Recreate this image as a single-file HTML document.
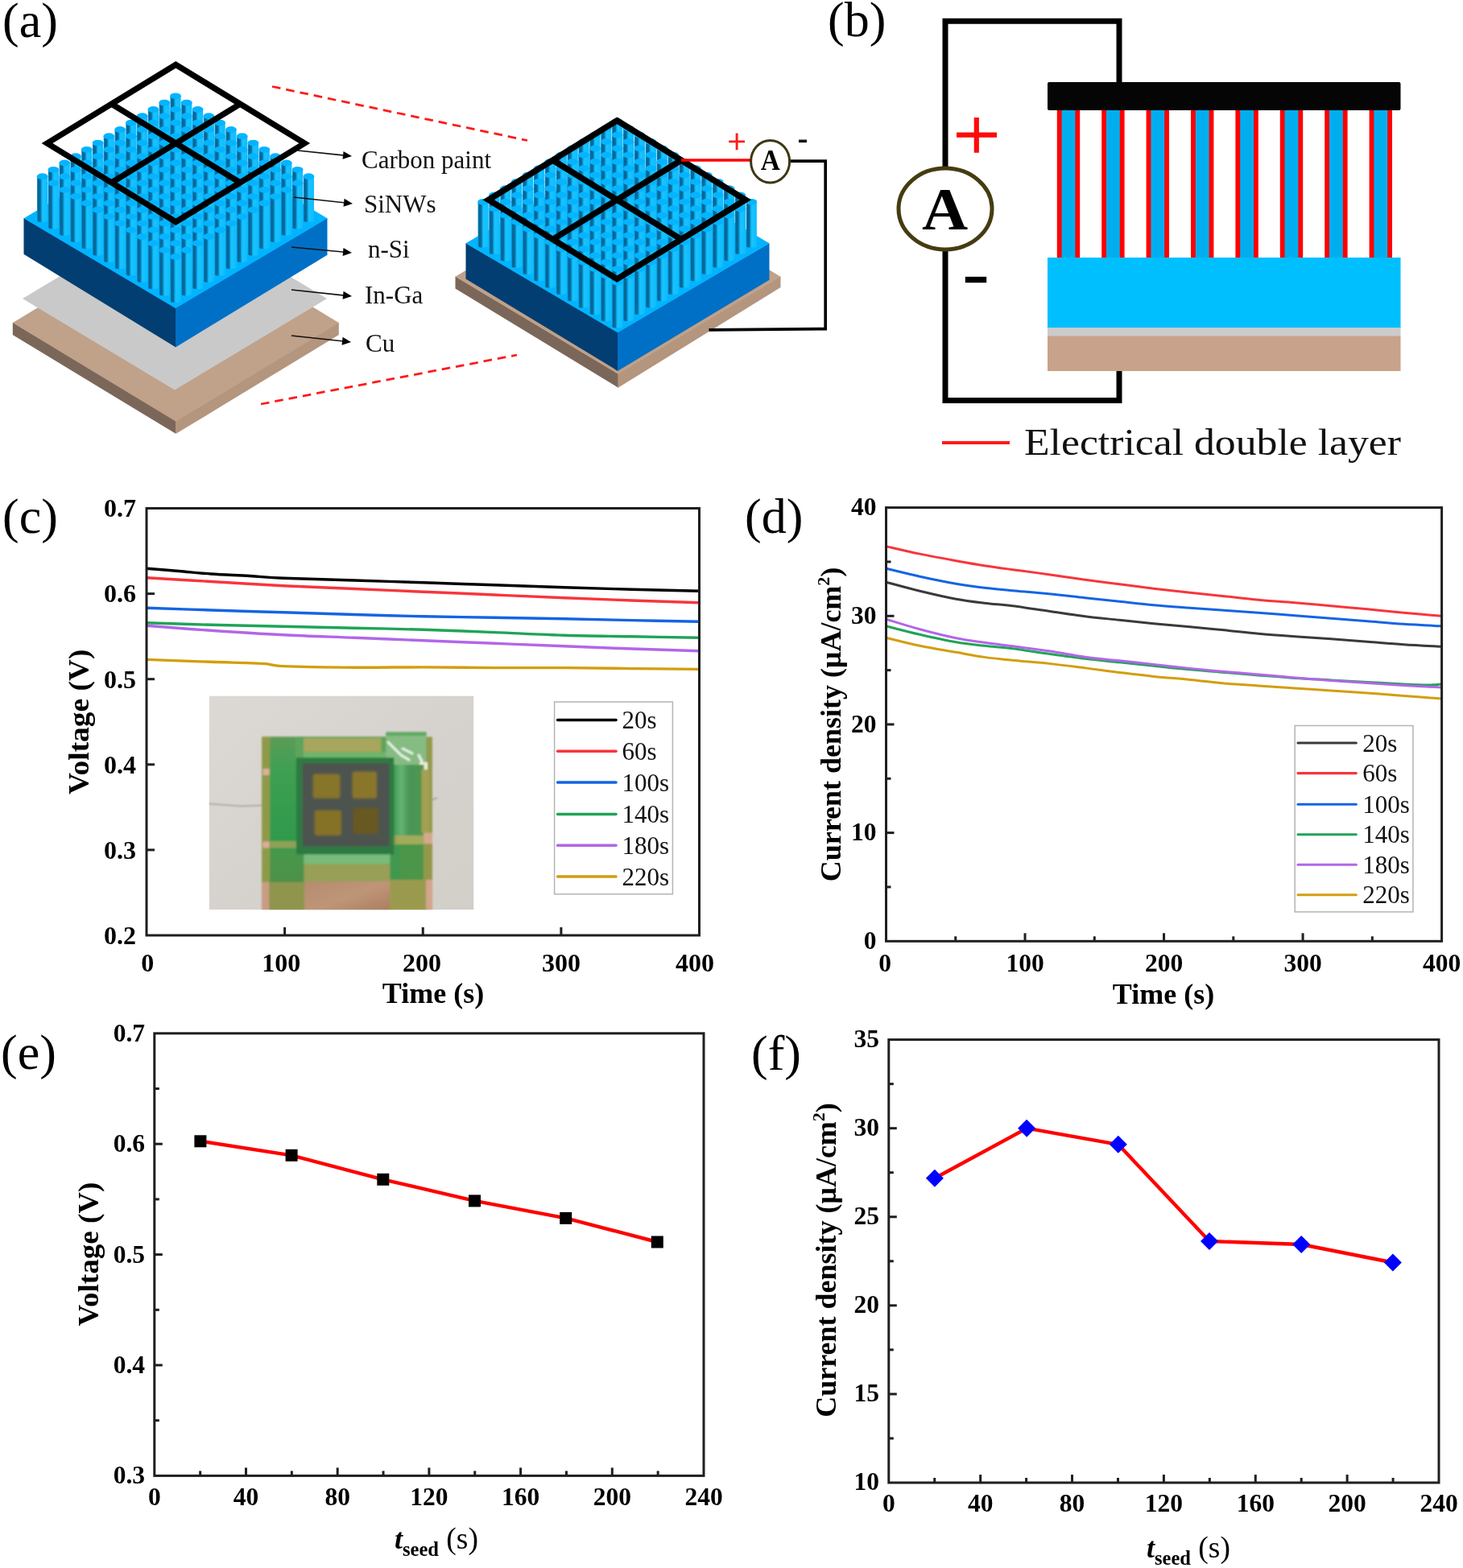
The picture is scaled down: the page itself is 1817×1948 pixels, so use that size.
<!DOCTYPE html>
<html lang="en"><head><meta charset="utf-8"><title>SiNW figure</title>
<style>
html,body{margin:0;padding:0;background:#fff;}
body{width:1817px;height:1948px;overflow:hidden;}
svg{display:block;font-family:"Liberation Serif", "DejaVu Serif", serif;}
</style></head><body>
<svg width="1817" height="1948" viewBox="0 0 1817 1948">
<defs>
<linearGradient id="pg" x1="0" x2="1" y1="0" y2="0">
<stop offset="0" stop-color="#0e9ee2"/><stop offset="0.06" stop-color="#087cb4"/><stop offset="0.11" stop-color="#046494"/><stop offset="0.32" stop-color="#056ea0"/><stop offset="0.43" stop-color="#10a8ea"/><stop offset="0.55" stop-color="#18c4ff"/><stop offset="1" stop-color="#0ebcff"/>
</linearGradient>
<clipPath id="pc"><rect x="259.6" y="864.4" width="328.8" height="265.8"/></clipPath>
<filter id="bl" x="-5%" y="-5%" width="110%" height="110%"><feGaussianBlur stdDeviation="0.9"/></filter>
<filter id="bl2" x="-20%" y="-20%" width="140%" height="140%"><feGaussianBlur stdDeviation="1.8"/></filter>
<linearGradient id="pbg" x1="0" x2="1" y1="0" y2="1"><stop offset="0" stop-color="#dcd9d4"/><stop offset="0.5" stop-color="#d6d3ce"/><stop offset="1" stop-color="#d2cec8"/></linearGradient>
<linearGradient id="ptl" x1="0" x2="0" y1="0" y2="1"><stop offset="0" stop-color="#5c9c58"/><stop offset="0.22" stop-color="#3fa052"/><stop offset="0.7" stop-color="#2f9a4c"/><stop offset="0.8" stop-color="#46984c"/><stop offset="1" stop-color="#4f9048"/></linearGradient>
<linearGradient id="ptr" x1="0" x2="1" y1="0" y2="0"><stop offset="0" stop-color="#3f9a52"/><stop offset="0.25" stop-color="#66b474"/><stop offset="0.5" stop-color="#4a9656"/><stop offset="1" stop-color="#50964f"/></linearGradient>
<linearGradient id="pcu" x1="0" x2="1" y1="0" y2="1"><stop offset="0" stop-color="#b48c6e"/><stop offset="0.5" stop-color="#bf9578"/><stop offset="1" stop-color="#a87c5e"/></linearGradient>
</defs>
<rect width="1817" height="1948" fill="#fff"/>
<text x="3.00" y="46.00" font-size="62" font-weight="normal" text-anchor="start" fill="#000" >(a)</text>
<text x="1028.00" y="45.00" font-size="62" font-weight="normal" text-anchor="start" fill="#000" >(b)</text>
<text x="3.00" y="662.00" font-size="62" font-weight="normal" text-anchor="start" fill="#000" >(c)</text>
<text x="925.00" y="662.00" font-size="62" font-weight="normal" text-anchor="start" fill="#000" >(d)</text>
<text x="1.00" y="1328.00" font-size="62" font-weight="normal" text-anchor="start" fill="#000" >(e)</text>
<text x="933.00" y="1329.00" font-size="62" font-weight="normal" text-anchor="start" fill="#000" >(f)</text>
<polygon points="15.80,400.60 218.70,523.10 218.70,539.10 15.80,416.00" fill="#7b6759" />
<polygon points="420.80,400.60 218.30,523.10 218.30,539.10 420.80,416.00" fill="#b4957e" />
<polygon points="218.30,278.50 420.80,401.00 218.30,523.50 15.80,401.00" fill="#c0a189" />
<polygon points="217.00,257.50 406.00,371.00 217.00,484.50 28.00,371.00" fill="#c9c9c9" />
<polygon points="29.50,270.80 218.40,382.60 218.40,431.50 29.50,315.70" fill="#023e72" />
<polygon points="406.50,270.80 218.00,382.60 218.00,431.50 406.50,316.70" fill="#0070c6" />
<polygon points="218.00,159.40 406.50,271.20 218.00,383.00 29.50,271.20" fill="#00b4ff" />
<path d="M211.40,119.30 v55.34 a6.60,1.56 0 0 0 13.20,0 v-55.34 z" fill="url(#pg)"/>
<ellipse cx="218.00" cy="119.30" rx="6.90" ry="3.90" fill="#04b4ff"/>
<path d="M197.62,127.62 v55.34 a6.60,1.56 0 0 0 13.20,0 v-55.34 z" fill="url(#pg)"/>
<ellipse cx="204.22" cy="127.62" rx="6.90" ry="3.90" fill="#04b4ff"/>
<path d="M225.18,127.62 v55.34 a6.60,1.56 0 0 0 13.20,0 v-55.34 z" fill="url(#pg)"/>
<ellipse cx="231.78" cy="127.62" rx="6.90" ry="3.90" fill="#04b4ff"/>
<path d="M183.84,135.94 v55.34 a6.60,1.56 0 0 0 13.20,0 v-55.34 z" fill="url(#pg)"/>
<ellipse cx="190.44" cy="135.94" rx="6.90" ry="3.90" fill="#04b4ff"/>
<path d="M211.40,135.94 v55.34 a6.60,1.56 0 0 0 13.20,0 v-55.34 z" fill="url(#pg)"/>
<ellipse cx="218.00" cy="135.94" rx="6.90" ry="3.90" fill="#04b4ff"/>
<path d="M238.96,135.94 v55.34 a6.60,1.56 0 0 0 13.20,0 v-55.34 z" fill="url(#pg)"/>
<ellipse cx="245.56" cy="135.94" rx="6.90" ry="3.90" fill="#04b4ff"/>
<path d="M170.06,144.26 v55.34 a6.60,1.56 0 0 0 13.20,0 v-55.34 z" fill="url(#pg)"/>
<ellipse cx="176.66" cy="144.26" rx="6.90" ry="3.90" fill="#04b4ff"/>
<path d="M197.62,144.26 v55.34 a6.60,1.56 0 0 0 13.20,0 v-55.34 z" fill="url(#pg)"/>
<ellipse cx="204.22" cy="144.26" rx="6.90" ry="3.90" fill="#04b4ff"/>
<path d="M225.18,144.26 v55.34 a6.60,1.56 0 0 0 13.20,0 v-55.34 z" fill="url(#pg)"/>
<ellipse cx="231.78" cy="144.26" rx="6.90" ry="3.90" fill="#04b4ff"/>
<path d="M252.74,144.26 v55.34 a6.60,1.56 0 0 0 13.20,0 v-55.34 z" fill="url(#pg)"/>
<ellipse cx="259.34" cy="144.26" rx="6.90" ry="3.90" fill="#04b4ff"/>
<path d="M156.28,152.58 v55.34 a6.60,1.56 0 0 0 13.20,0 v-55.34 z" fill="url(#pg)"/>
<ellipse cx="162.88" cy="152.58" rx="6.90" ry="3.90" fill="#04b4ff"/>
<path d="M183.84,152.58 v55.34 a6.60,1.56 0 0 0 13.20,0 v-55.34 z" fill="url(#pg)"/>
<ellipse cx="190.44" cy="152.58" rx="6.90" ry="3.90" fill="#04b4ff"/>
<path d="M211.40,152.58 v55.34 a6.60,1.56 0 0 0 13.20,0 v-55.34 z" fill="url(#pg)"/>
<ellipse cx="218.00" cy="152.58" rx="6.90" ry="3.90" fill="#04b4ff"/>
<path d="M238.96,152.58 v55.34 a6.60,1.56 0 0 0 13.20,0 v-55.34 z" fill="url(#pg)"/>
<ellipse cx="245.56" cy="152.58" rx="6.90" ry="3.90" fill="#04b4ff"/>
<path d="M266.52,152.58 v55.34 a6.60,1.56 0 0 0 13.20,0 v-55.34 z" fill="url(#pg)"/>
<ellipse cx="273.12" cy="152.58" rx="6.90" ry="3.90" fill="#04b4ff"/>
<path d="M142.50,160.90 v55.34 a6.60,1.56 0 0 0 13.20,0 v-55.34 z" fill="url(#pg)"/>
<ellipse cx="149.10" cy="160.90" rx="6.90" ry="3.90" fill="#04b4ff"/>
<path d="M170.06,160.90 v55.34 a6.60,1.56 0 0 0 13.20,0 v-55.34 z" fill="url(#pg)"/>
<ellipse cx="176.66" cy="160.90" rx="6.90" ry="3.90" fill="#04b4ff"/>
<path d="M197.62,160.90 v55.34 a6.60,1.56 0 0 0 13.20,0 v-55.34 z" fill="url(#pg)"/>
<ellipse cx="204.22" cy="160.90" rx="6.90" ry="3.90" fill="#04b4ff"/>
<path d="M225.18,160.90 v55.34 a6.60,1.56 0 0 0 13.20,0 v-55.34 z" fill="url(#pg)"/>
<ellipse cx="231.78" cy="160.90" rx="6.90" ry="3.90" fill="#04b4ff"/>
<path d="M252.74,160.90 v55.34 a6.60,1.56 0 0 0 13.20,0 v-55.34 z" fill="url(#pg)"/>
<ellipse cx="259.34" cy="160.90" rx="6.90" ry="3.90" fill="#04b4ff"/>
<path d="M280.30,160.90 v55.34 a6.60,1.56 0 0 0 13.20,0 v-55.34 z" fill="url(#pg)"/>
<ellipse cx="286.90" cy="160.90" rx="6.90" ry="3.90" fill="#04b4ff"/>
<path d="M128.72,169.22 v55.34 a6.60,1.56 0 0 0 13.20,0 v-55.34 z" fill="url(#pg)"/>
<ellipse cx="135.32" cy="169.22" rx="6.90" ry="3.90" fill="#04b4ff"/>
<path d="M156.28,169.22 v55.34 a6.60,1.56 0 0 0 13.20,0 v-55.34 z" fill="url(#pg)"/>
<ellipse cx="162.88" cy="169.22" rx="6.90" ry="3.90" fill="#04b4ff"/>
<path d="M183.84,169.22 v55.34 a6.60,1.56 0 0 0 13.20,0 v-55.34 z" fill="url(#pg)"/>
<ellipse cx="190.44" cy="169.22" rx="6.90" ry="3.90" fill="#04b4ff"/>
<path d="M211.40,169.22 v55.34 a6.60,1.56 0 0 0 13.20,0 v-55.34 z" fill="url(#pg)"/>
<ellipse cx="218.00" cy="169.22" rx="6.90" ry="3.90" fill="#04b4ff"/>
<path d="M238.96,169.22 v55.34 a6.60,1.56 0 0 0 13.20,0 v-55.34 z" fill="url(#pg)"/>
<ellipse cx="245.56" cy="169.22" rx="6.90" ry="3.90" fill="#04b4ff"/>
<path d="M266.52,169.22 v55.34 a6.60,1.56 0 0 0 13.20,0 v-55.34 z" fill="url(#pg)"/>
<ellipse cx="273.12" cy="169.22" rx="6.90" ry="3.90" fill="#04b4ff"/>
<path d="M294.08,169.22 v55.34 a6.60,1.56 0 0 0 13.20,0 v-55.34 z" fill="url(#pg)"/>
<ellipse cx="300.68" cy="169.22" rx="6.90" ry="3.90" fill="#04b4ff"/>
<path d="M114.94,177.54 v55.34 a6.60,1.56 0 0 0 13.20,0 v-55.34 z" fill="url(#pg)"/>
<ellipse cx="121.54" cy="177.54" rx="6.90" ry="3.90" fill="#04b4ff"/>
<path d="M142.50,177.54 v55.34 a6.60,1.56 0 0 0 13.20,0 v-55.34 z" fill="url(#pg)"/>
<ellipse cx="149.10" cy="177.54" rx="6.90" ry="3.90" fill="#04b4ff"/>
<path d="M170.06,177.54 v55.34 a6.60,1.56 0 0 0 13.20,0 v-55.34 z" fill="url(#pg)"/>
<ellipse cx="176.66" cy="177.54" rx="6.90" ry="3.90" fill="#04b4ff"/>
<path d="M197.62,177.54 v55.34 a6.60,1.56 0 0 0 13.20,0 v-55.34 z" fill="url(#pg)"/>
<ellipse cx="204.22" cy="177.54" rx="6.90" ry="3.90" fill="#04b4ff"/>
<path d="M225.18,177.54 v55.34 a6.60,1.56 0 0 0 13.20,0 v-55.34 z" fill="url(#pg)"/>
<ellipse cx="231.78" cy="177.54" rx="6.90" ry="3.90" fill="#04b4ff"/>
<path d="M252.74,177.54 v55.34 a6.60,1.56 0 0 0 13.20,0 v-55.34 z" fill="url(#pg)"/>
<ellipse cx="259.34" cy="177.54" rx="6.90" ry="3.90" fill="#04b4ff"/>
<path d="M280.30,177.54 v55.34 a6.60,1.56 0 0 0 13.20,0 v-55.34 z" fill="url(#pg)"/>
<ellipse cx="286.90" cy="177.54" rx="6.90" ry="3.90" fill="#04b4ff"/>
<path d="M307.86,177.54 v55.34 a6.60,1.56 0 0 0 13.20,0 v-55.34 z" fill="url(#pg)"/>
<ellipse cx="314.46" cy="177.54" rx="6.90" ry="3.90" fill="#04b4ff"/>
<path d="M101.16,185.86 v55.34 a6.60,1.56 0 0 0 13.20,0 v-55.34 z" fill="url(#pg)"/>
<ellipse cx="107.76" cy="185.86" rx="6.90" ry="3.90" fill="#04b4ff"/>
<path d="M128.72,185.86 v55.34 a6.60,1.56 0 0 0 13.20,0 v-55.34 z" fill="url(#pg)"/>
<ellipse cx="135.32" cy="185.86" rx="6.90" ry="3.90" fill="#04b4ff"/>
<path d="M156.28,185.86 v55.34 a6.60,1.56 0 0 0 13.20,0 v-55.34 z" fill="url(#pg)"/>
<ellipse cx="162.88" cy="185.86" rx="6.90" ry="3.90" fill="#04b4ff"/>
<path d="M183.84,185.86 v55.34 a6.60,1.56 0 0 0 13.20,0 v-55.34 z" fill="url(#pg)"/>
<ellipse cx="190.44" cy="185.86" rx="6.90" ry="3.90" fill="#04b4ff"/>
<path d="M211.40,185.86 v55.34 a6.60,1.56 0 0 0 13.20,0 v-55.34 z" fill="url(#pg)"/>
<ellipse cx="218.00" cy="185.86" rx="6.90" ry="3.90" fill="#04b4ff"/>
<path d="M238.96,185.86 v55.34 a6.60,1.56 0 0 0 13.20,0 v-55.34 z" fill="url(#pg)"/>
<ellipse cx="245.56" cy="185.86" rx="6.90" ry="3.90" fill="#04b4ff"/>
<path d="M266.52,185.86 v55.34 a6.60,1.56 0 0 0 13.20,0 v-55.34 z" fill="url(#pg)"/>
<ellipse cx="273.12" cy="185.86" rx="6.90" ry="3.90" fill="#04b4ff"/>
<path d="M294.08,185.86 v55.34 a6.60,1.56 0 0 0 13.20,0 v-55.34 z" fill="url(#pg)"/>
<ellipse cx="300.68" cy="185.86" rx="6.90" ry="3.90" fill="#04b4ff"/>
<path d="M321.64,185.86 v55.34 a6.60,1.56 0 0 0 13.20,0 v-55.34 z" fill="url(#pg)"/>
<ellipse cx="328.24" cy="185.86" rx="6.90" ry="3.90" fill="#04b4ff"/>
<path d="M87.38,194.18 v55.34 a6.60,1.56 0 0 0 13.20,0 v-55.34 z" fill="url(#pg)"/>
<ellipse cx="93.98" cy="194.18" rx="6.90" ry="3.90" fill="#04b4ff"/>
<path d="M114.94,194.18 v55.34 a6.60,1.56 0 0 0 13.20,0 v-55.34 z" fill="url(#pg)"/>
<ellipse cx="121.54" cy="194.18" rx="6.90" ry="3.90" fill="#04b4ff"/>
<path d="M142.50,194.18 v55.34 a6.60,1.56 0 0 0 13.20,0 v-55.34 z" fill="url(#pg)"/>
<ellipse cx="149.10" cy="194.18" rx="6.90" ry="3.90" fill="#04b4ff"/>
<path d="M170.06,194.18 v55.34 a6.60,1.56 0 0 0 13.20,0 v-55.34 z" fill="url(#pg)"/>
<ellipse cx="176.66" cy="194.18" rx="6.90" ry="3.90" fill="#04b4ff"/>
<path d="M197.62,194.18 v55.34 a6.60,1.56 0 0 0 13.20,0 v-55.34 z" fill="url(#pg)"/>
<ellipse cx="204.22" cy="194.18" rx="6.90" ry="3.90" fill="#04b4ff"/>
<path d="M225.18,194.18 v55.34 a6.60,1.56 0 0 0 13.20,0 v-55.34 z" fill="url(#pg)"/>
<ellipse cx="231.78" cy="194.18" rx="6.90" ry="3.90" fill="#04b4ff"/>
<path d="M252.74,194.18 v55.34 a6.60,1.56 0 0 0 13.20,0 v-55.34 z" fill="url(#pg)"/>
<ellipse cx="259.34" cy="194.18" rx="6.90" ry="3.90" fill="#04b4ff"/>
<path d="M280.30,194.18 v55.34 a6.60,1.56 0 0 0 13.20,0 v-55.34 z" fill="url(#pg)"/>
<ellipse cx="286.90" cy="194.18" rx="6.90" ry="3.90" fill="#04b4ff"/>
<path d="M307.86,194.18 v55.34 a6.60,1.56 0 0 0 13.20,0 v-55.34 z" fill="url(#pg)"/>
<ellipse cx="314.46" cy="194.18" rx="6.90" ry="3.90" fill="#04b4ff"/>
<path d="M335.42,194.18 v55.34 a6.60,1.56 0 0 0 13.20,0 v-55.34 z" fill="url(#pg)"/>
<ellipse cx="342.02" cy="194.18" rx="6.90" ry="3.90" fill="#04b4ff"/>
<path d="M73.60,202.50 v55.34 a6.60,1.56 0 0 0 13.20,0 v-55.34 z" fill="url(#pg)"/>
<ellipse cx="80.20" cy="202.50" rx="6.90" ry="3.90" fill="#04b4ff"/>
<path d="M101.16,202.50 v55.34 a6.60,1.56 0 0 0 13.20,0 v-55.34 z" fill="url(#pg)"/>
<ellipse cx="107.76" cy="202.50" rx="6.90" ry="3.90" fill="#04b4ff"/>
<path d="M128.72,202.50 v55.34 a6.60,1.56 0 0 0 13.20,0 v-55.34 z" fill="url(#pg)"/>
<ellipse cx="135.32" cy="202.50" rx="6.90" ry="3.90" fill="#04b4ff"/>
<path d="M156.28,202.50 v55.34 a6.60,1.56 0 0 0 13.20,0 v-55.34 z" fill="url(#pg)"/>
<ellipse cx="162.88" cy="202.50" rx="6.90" ry="3.90" fill="#04b4ff"/>
<path d="M183.84,202.50 v55.34 a6.60,1.56 0 0 0 13.20,0 v-55.34 z" fill="url(#pg)"/>
<ellipse cx="190.44" cy="202.50" rx="6.90" ry="3.90" fill="#04b4ff"/>
<path d="M211.40,202.50 v55.34 a6.60,1.56 0 0 0 13.20,0 v-55.34 z" fill="url(#pg)"/>
<ellipse cx="218.00" cy="202.50" rx="6.90" ry="3.90" fill="#04b4ff"/>
<path d="M238.96,202.50 v55.34 a6.60,1.56 0 0 0 13.20,0 v-55.34 z" fill="url(#pg)"/>
<ellipse cx="245.56" cy="202.50" rx="6.90" ry="3.90" fill="#04b4ff"/>
<path d="M266.52,202.50 v55.34 a6.60,1.56 0 0 0 13.20,0 v-55.34 z" fill="url(#pg)"/>
<ellipse cx="273.12" cy="202.50" rx="6.90" ry="3.90" fill="#04b4ff"/>
<path d="M294.08,202.50 v55.34 a6.60,1.56 0 0 0 13.20,0 v-55.34 z" fill="url(#pg)"/>
<ellipse cx="300.68" cy="202.50" rx="6.90" ry="3.90" fill="#04b4ff"/>
<path d="M321.64,202.50 v55.34 a6.60,1.56 0 0 0 13.20,0 v-55.34 z" fill="url(#pg)"/>
<ellipse cx="328.24" cy="202.50" rx="6.90" ry="3.90" fill="#04b4ff"/>
<path d="M349.20,202.50 v55.34 a6.60,1.56 0 0 0 13.20,0 v-55.34 z" fill="url(#pg)"/>
<ellipse cx="355.80" cy="202.50" rx="6.90" ry="3.90" fill="#04b4ff"/>
<path d="M59.82,210.82 v55.34 a6.60,1.56 0 0 0 13.20,0 v-55.34 z" fill="url(#pg)"/>
<ellipse cx="66.42" cy="210.82" rx="6.90" ry="3.90" fill="#04b4ff"/>
<path d="M87.38,210.82 v55.34 a6.60,1.56 0 0 0 13.20,0 v-55.34 z" fill="url(#pg)"/>
<ellipse cx="93.98" cy="210.82" rx="6.90" ry="3.90" fill="#04b4ff"/>
<path d="M114.94,210.82 v55.34 a6.60,1.56 0 0 0 13.20,0 v-55.34 z" fill="url(#pg)"/>
<ellipse cx="121.54" cy="210.82" rx="6.90" ry="3.90" fill="#04b4ff"/>
<path d="M142.50,210.82 v55.34 a6.60,1.56 0 0 0 13.20,0 v-55.34 z" fill="url(#pg)"/>
<ellipse cx="149.10" cy="210.82" rx="6.90" ry="3.90" fill="#04b4ff"/>
<path d="M170.06,210.82 v55.34 a6.60,1.56 0 0 0 13.20,0 v-55.34 z" fill="url(#pg)"/>
<ellipse cx="176.66" cy="210.82" rx="6.90" ry="3.90" fill="#04b4ff"/>
<path d="M197.62,210.82 v55.34 a6.60,1.56 0 0 0 13.20,0 v-55.34 z" fill="url(#pg)"/>
<ellipse cx="204.22" cy="210.82" rx="6.90" ry="3.90" fill="#04b4ff"/>
<path d="M225.18,210.82 v55.34 a6.60,1.56 0 0 0 13.20,0 v-55.34 z" fill="url(#pg)"/>
<ellipse cx="231.78" cy="210.82" rx="6.90" ry="3.90" fill="#04b4ff"/>
<path d="M252.74,210.82 v55.34 a6.60,1.56 0 0 0 13.20,0 v-55.34 z" fill="url(#pg)"/>
<ellipse cx="259.34" cy="210.82" rx="6.90" ry="3.90" fill="#04b4ff"/>
<path d="M280.30,210.82 v55.34 a6.60,1.56 0 0 0 13.20,0 v-55.34 z" fill="url(#pg)"/>
<ellipse cx="286.90" cy="210.82" rx="6.90" ry="3.90" fill="#04b4ff"/>
<path d="M307.86,210.82 v55.34 a6.60,1.56 0 0 0 13.20,0 v-55.34 z" fill="url(#pg)"/>
<ellipse cx="314.46" cy="210.82" rx="6.90" ry="3.90" fill="#04b4ff"/>
<path d="M335.42,210.82 v55.34 a6.60,1.56 0 0 0 13.20,0 v-55.34 z" fill="url(#pg)"/>
<ellipse cx="342.02" cy="210.82" rx="6.90" ry="3.90" fill="#04b4ff"/>
<path d="M362.98,210.82 v55.34 a6.60,1.56 0 0 0 13.20,0 v-55.34 z" fill="url(#pg)"/>
<ellipse cx="369.58" cy="210.82" rx="6.90" ry="3.90" fill="#04b4ff"/>
<path d="M46.04,219.14 v55.34 a6.60,1.56 0 0 0 13.20,0 v-55.34 z" fill="url(#pg)"/>
<ellipse cx="52.64" cy="219.14" rx="6.90" ry="3.90" fill="#04b4ff"/>
<path d="M73.60,219.14 v55.34 a6.60,1.56 0 0 0 13.20,0 v-55.34 z" fill="url(#pg)"/>
<ellipse cx="80.20" cy="219.14" rx="6.90" ry="3.90" fill="#04b4ff"/>
<path d="M101.16,219.14 v55.34 a6.60,1.56 0 0 0 13.20,0 v-55.34 z" fill="url(#pg)"/>
<ellipse cx="107.76" cy="219.14" rx="6.90" ry="3.90" fill="#04b4ff"/>
<path d="M128.72,219.14 v55.34 a6.60,1.56 0 0 0 13.20,0 v-55.34 z" fill="url(#pg)"/>
<ellipse cx="135.32" cy="219.14" rx="6.90" ry="3.90" fill="#04b4ff"/>
<path d="M156.28,219.14 v55.34 a6.60,1.56 0 0 0 13.20,0 v-55.34 z" fill="url(#pg)"/>
<ellipse cx="162.88" cy="219.14" rx="6.90" ry="3.90" fill="#04b4ff"/>
<path d="M183.84,219.14 v55.34 a6.60,1.56 0 0 0 13.20,0 v-55.34 z" fill="url(#pg)"/>
<ellipse cx="190.44" cy="219.14" rx="6.90" ry="3.90" fill="#04b4ff"/>
<path d="M211.40,219.14 v55.34 a6.60,1.56 0 0 0 13.20,0 v-55.34 z" fill="url(#pg)"/>
<ellipse cx="218.00" cy="219.14" rx="6.90" ry="3.90" fill="#04b4ff"/>
<path d="M238.96,219.14 v55.34 a6.60,1.56 0 0 0 13.20,0 v-55.34 z" fill="url(#pg)"/>
<ellipse cx="245.56" cy="219.14" rx="6.90" ry="3.90" fill="#04b4ff"/>
<path d="M266.52,219.14 v55.34 a6.60,1.56 0 0 0 13.20,0 v-55.34 z" fill="url(#pg)"/>
<ellipse cx="273.12" cy="219.14" rx="6.90" ry="3.90" fill="#04b4ff"/>
<path d="M294.08,219.14 v55.34 a6.60,1.56 0 0 0 13.20,0 v-55.34 z" fill="url(#pg)"/>
<ellipse cx="300.68" cy="219.14" rx="6.90" ry="3.90" fill="#04b4ff"/>
<path d="M321.64,219.14 v55.34 a6.60,1.56 0 0 0 13.20,0 v-55.34 z" fill="url(#pg)"/>
<ellipse cx="328.24" cy="219.14" rx="6.90" ry="3.90" fill="#04b4ff"/>
<path d="M349.20,219.14 v55.34 a6.60,1.56 0 0 0 13.20,0 v-55.34 z" fill="url(#pg)"/>
<ellipse cx="355.80" cy="219.14" rx="6.90" ry="3.90" fill="#04b4ff"/>
<path d="M376.76,219.14 v55.34 a6.60,1.56 0 0 0 13.20,0 v-55.34 z" fill="url(#pg)"/>
<ellipse cx="383.36" cy="219.14" rx="6.90" ry="3.90" fill="#04b4ff"/>
<path d="M59.82,227.46 v55.34 a6.60,1.56 0 0 0 13.20,0 v-55.34 z" fill="url(#pg)"/>
<ellipse cx="66.42" cy="227.46" rx="6.90" ry="3.90" fill="#04b4ff"/>
<path d="M87.38,227.46 v55.34 a6.60,1.56 0 0 0 13.20,0 v-55.34 z" fill="url(#pg)"/>
<ellipse cx="93.98" cy="227.46" rx="6.90" ry="3.90" fill="#04b4ff"/>
<path d="M114.94,227.46 v55.34 a6.60,1.56 0 0 0 13.20,0 v-55.34 z" fill="url(#pg)"/>
<ellipse cx="121.54" cy="227.46" rx="6.90" ry="3.90" fill="#04b4ff"/>
<path d="M142.50,227.46 v55.34 a6.60,1.56 0 0 0 13.20,0 v-55.34 z" fill="url(#pg)"/>
<ellipse cx="149.10" cy="227.46" rx="6.90" ry="3.90" fill="#04b4ff"/>
<path d="M170.06,227.46 v55.34 a6.60,1.56 0 0 0 13.20,0 v-55.34 z" fill="url(#pg)"/>
<ellipse cx="176.66" cy="227.46" rx="6.90" ry="3.90" fill="#04b4ff"/>
<path d="M197.62,227.46 v55.34 a6.60,1.56 0 0 0 13.20,0 v-55.34 z" fill="url(#pg)"/>
<ellipse cx="204.22" cy="227.46" rx="6.90" ry="3.90" fill="#04b4ff"/>
<path d="M225.18,227.46 v55.34 a6.60,1.56 0 0 0 13.20,0 v-55.34 z" fill="url(#pg)"/>
<ellipse cx="231.78" cy="227.46" rx="6.90" ry="3.90" fill="#04b4ff"/>
<path d="M252.74,227.46 v55.34 a6.60,1.56 0 0 0 13.20,0 v-55.34 z" fill="url(#pg)"/>
<ellipse cx="259.34" cy="227.46" rx="6.90" ry="3.90" fill="#04b4ff"/>
<path d="M280.30,227.46 v55.34 a6.60,1.56 0 0 0 13.20,0 v-55.34 z" fill="url(#pg)"/>
<ellipse cx="286.90" cy="227.46" rx="6.90" ry="3.90" fill="#04b4ff"/>
<path d="M307.86,227.46 v55.34 a6.60,1.56 0 0 0 13.20,0 v-55.34 z" fill="url(#pg)"/>
<ellipse cx="314.46" cy="227.46" rx="6.90" ry="3.90" fill="#04b4ff"/>
<path d="M335.42,227.46 v55.34 a6.60,1.56 0 0 0 13.20,0 v-55.34 z" fill="url(#pg)"/>
<ellipse cx="342.02" cy="227.46" rx="6.90" ry="3.90" fill="#04b4ff"/>
<path d="M362.98,227.46 v55.34 a6.60,1.56 0 0 0 13.20,0 v-55.34 z" fill="url(#pg)"/>
<ellipse cx="369.58" cy="227.46" rx="6.90" ry="3.90" fill="#04b4ff"/>
<path d="M73.60,235.78 v55.34 a6.60,1.56 0 0 0 13.20,0 v-55.34 z" fill="url(#pg)"/>
<ellipse cx="80.20" cy="235.78" rx="6.90" ry="3.90" fill="#04b4ff"/>
<path d="M101.16,235.78 v55.34 a6.60,1.56 0 0 0 13.20,0 v-55.34 z" fill="url(#pg)"/>
<ellipse cx="107.76" cy="235.78" rx="6.90" ry="3.90" fill="#04b4ff"/>
<path d="M128.72,235.78 v55.34 a6.60,1.56 0 0 0 13.20,0 v-55.34 z" fill="url(#pg)"/>
<ellipse cx="135.32" cy="235.78" rx="6.90" ry="3.90" fill="#04b4ff"/>
<path d="M156.28,235.78 v55.34 a6.60,1.56 0 0 0 13.20,0 v-55.34 z" fill="url(#pg)"/>
<ellipse cx="162.88" cy="235.78" rx="6.90" ry="3.90" fill="#04b4ff"/>
<path d="M183.84,235.78 v55.34 a6.60,1.56 0 0 0 13.20,0 v-55.34 z" fill="url(#pg)"/>
<ellipse cx="190.44" cy="235.78" rx="6.90" ry="3.90" fill="#04b4ff"/>
<path d="M211.40,235.78 v55.34 a6.60,1.56 0 0 0 13.20,0 v-55.34 z" fill="url(#pg)"/>
<ellipse cx="218.00" cy="235.78" rx="6.90" ry="3.90" fill="#04b4ff"/>
<path d="M238.96,235.78 v55.34 a6.60,1.56 0 0 0 13.20,0 v-55.34 z" fill="url(#pg)"/>
<ellipse cx="245.56" cy="235.78" rx="6.90" ry="3.90" fill="#04b4ff"/>
<path d="M266.52,235.78 v55.34 a6.60,1.56 0 0 0 13.20,0 v-55.34 z" fill="url(#pg)"/>
<ellipse cx="273.12" cy="235.78" rx="6.90" ry="3.90" fill="#04b4ff"/>
<path d="M294.08,235.78 v55.34 a6.60,1.56 0 0 0 13.20,0 v-55.34 z" fill="url(#pg)"/>
<ellipse cx="300.68" cy="235.78" rx="6.90" ry="3.90" fill="#04b4ff"/>
<path d="M321.64,235.78 v55.34 a6.60,1.56 0 0 0 13.20,0 v-55.34 z" fill="url(#pg)"/>
<ellipse cx="328.24" cy="235.78" rx="6.90" ry="3.90" fill="#04b4ff"/>
<path d="M349.20,235.78 v55.34 a6.60,1.56 0 0 0 13.20,0 v-55.34 z" fill="url(#pg)"/>
<ellipse cx="355.80" cy="235.78" rx="6.90" ry="3.90" fill="#04b4ff"/>
<path d="M87.38,244.10 v55.34 a6.60,1.56 0 0 0 13.20,0 v-55.34 z" fill="url(#pg)"/>
<ellipse cx="93.98" cy="244.10" rx="6.90" ry="3.90" fill="#04b4ff"/>
<path d="M114.94,244.10 v55.34 a6.60,1.56 0 0 0 13.20,0 v-55.34 z" fill="url(#pg)"/>
<ellipse cx="121.54" cy="244.10" rx="6.90" ry="3.90" fill="#04b4ff"/>
<path d="M142.50,244.10 v55.34 a6.60,1.56 0 0 0 13.20,0 v-55.34 z" fill="url(#pg)"/>
<ellipse cx="149.10" cy="244.10" rx="6.90" ry="3.90" fill="#04b4ff"/>
<path d="M170.06,244.10 v55.34 a6.60,1.56 0 0 0 13.20,0 v-55.34 z" fill="url(#pg)"/>
<ellipse cx="176.66" cy="244.10" rx="6.90" ry="3.90" fill="#04b4ff"/>
<path d="M197.62,244.10 v55.34 a6.60,1.56 0 0 0 13.20,0 v-55.34 z" fill="url(#pg)"/>
<ellipse cx="204.22" cy="244.10" rx="6.90" ry="3.90" fill="#04b4ff"/>
<path d="M225.18,244.10 v55.34 a6.60,1.56 0 0 0 13.20,0 v-55.34 z" fill="url(#pg)"/>
<ellipse cx="231.78" cy="244.10" rx="6.90" ry="3.90" fill="#04b4ff"/>
<path d="M252.74,244.10 v55.34 a6.60,1.56 0 0 0 13.20,0 v-55.34 z" fill="url(#pg)"/>
<ellipse cx="259.34" cy="244.10" rx="6.90" ry="3.90" fill="#04b4ff"/>
<path d="M280.30,244.10 v55.34 a6.60,1.56 0 0 0 13.20,0 v-55.34 z" fill="url(#pg)"/>
<ellipse cx="286.90" cy="244.10" rx="6.90" ry="3.90" fill="#04b4ff"/>
<path d="M307.86,244.10 v55.34 a6.60,1.56 0 0 0 13.20,0 v-55.34 z" fill="url(#pg)"/>
<ellipse cx="314.46" cy="244.10" rx="6.90" ry="3.90" fill="#04b4ff"/>
<path d="M335.42,244.10 v55.34 a6.60,1.56 0 0 0 13.20,0 v-55.34 z" fill="url(#pg)"/>
<ellipse cx="342.02" cy="244.10" rx="6.90" ry="3.90" fill="#04b4ff"/>
<path d="M101.16,252.42 v55.34 a6.60,1.56 0 0 0 13.20,0 v-55.34 z" fill="url(#pg)"/>
<ellipse cx="107.76" cy="252.42" rx="6.90" ry="3.90" fill="#04b4ff"/>
<path d="M128.72,252.42 v55.34 a6.60,1.56 0 0 0 13.20,0 v-55.34 z" fill="url(#pg)"/>
<ellipse cx="135.32" cy="252.42" rx="6.90" ry="3.90" fill="#04b4ff"/>
<path d="M156.28,252.42 v55.34 a6.60,1.56 0 0 0 13.20,0 v-55.34 z" fill="url(#pg)"/>
<ellipse cx="162.88" cy="252.42" rx="6.90" ry="3.90" fill="#04b4ff"/>
<path d="M183.84,252.42 v55.34 a6.60,1.56 0 0 0 13.20,0 v-55.34 z" fill="url(#pg)"/>
<ellipse cx="190.44" cy="252.42" rx="6.90" ry="3.90" fill="#04b4ff"/>
<path d="M211.40,252.42 v55.34 a6.60,1.56 0 0 0 13.20,0 v-55.34 z" fill="url(#pg)"/>
<ellipse cx="218.00" cy="252.42" rx="6.90" ry="3.90" fill="#04b4ff"/>
<path d="M238.96,252.42 v55.34 a6.60,1.56 0 0 0 13.20,0 v-55.34 z" fill="url(#pg)"/>
<ellipse cx="245.56" cy="252.42" rx="6.90" ry="3.90" fill="#04b4ff"/>
<path d="M266.52,252.42 v55.34 a6.60,1.56 0 0 0 13.20,0 v-55.34 z" fill="url(#pg)"/>
<ellipse cx="273.12" cy="252.42" rx="6.90" ry="3.90" fill="#04b4ff"/>
<path d="M294.08,252.42 v55.34 a6.60,1.56 0 0 0 13.20,0 v-55.34 z" fill="url(#pg)"/>
<ellipse cx="300.68" cy="252.42" rx="6.90" ry="3.90" fill="#04b4ff"/>
<path d="M321.64,252.42 v55.34 a6.60,1.56 0 0 0 13.20,0 v-55.34 z" fill="url(#pg)"/>
<ellipse cx="328.24" cy="252.42" rx="6.90" ry="3.90" fill="#04b4ff"/>
<path d="M114.94,260.74 v55.34 a6.60,1.56 0 0 0 13.20,0 v-55.34 z" fill="url(#pg)"/>
<ellipse cx="121.54" cy="260.74" rx="6.90" ry="3.90" fill="#04b4ff"/>
<path d="M142.50,260.74 v55.34 a6.60,1.56 0 0 0 13.20,0 v-55.34 z" fill="url(#pg)"/>
<ellipse cx="149.10" cy="260.74" rx="6.90" ry="3.90" fill="#04b4ff"/>
<path d="M170.06,260.74 v55.34 a6.60,1.56 0 0 0 13.20,0 v-55.34 z" fill="url(#pg)"/>
<ellipse cx="176.66" cy="260.74" rx="6.90" ry="3.90" fill="#04b4ff"/>
<path d="M197.62,260.74 v55.34 a6.60,1.56 0 0 0 13.20,0 v-55.34 z" fill="url(#pg)"/>
<ellipse cx="204.22" cy="260.74" rx="6.90" ry="3.90" fill="#04b4ff"/>
<path d="M225.18,260.74 v55.34 a6.60,1.56 0 0 0 13.20,0 v-55.34 z" fill="url(#pg)"/>
<ellipse cx="231.78" cy="260.74" rx="6.90" ry="3.90" fill="#04b4ff"/>
<path d="M252.74,260.74 v55.34 a6.60,1.56 0 0 0 13.20,0 v-55.34 z" fill="url(#pg)"/>
<ellipse cx="259.34" cy="260.74" rx="6.90" ry="3.90" fill="#04b4ff"/>
<path d="M280.30,260.74 v55.34 a6.60,1.56 0 0 0 13.20,0 v-55.34 z" fill="url(#pg)"/>
<ellipse cx="286.90" cy="260.74" rx="6.90" ry="3.90" fill="#04b4ff"/>
<path d="M307.86,260.74 v55.34 a6.60,1.56 0 0 0 13.20,0 v-55.34 z" fill="url(#pg)"/>
<ellipse cx="314.46" cy="260.74" rx="6.90" ry="3.90" fill="#04b4ff"/>
<path d="M128.72,269.06 v55.34 a6.60,1.56 0 0 0 13.20,0 v-55.34 z" fill="url(#pg)"/>
<ellipse cx="135.32" cy="269.06" rx="6.90" ry="3.90" fill="#04b4ff"/>
<path d="M156.28,269.06 v55.34 a6.60,1.56 0 0 0 13.20,0 v-55.34 z" fill="url(#pg)"/>
<ellipse cx="162.88" cy="269.06" rx="6.90" ry="3.90" fill="#04b4ff"/>
<path d="M183.84,269.06 v55.34 a6.60,1.56 0 0 0 13.20,0 v-55.34 z" fill="url(#pg)"/>
<ellipse cx="190.44" cy="269.06" rx="6.90" ry="3.90" fill="#04b4ff"/>
<path d="M211.40,269.06 v55.34 a6.60,1.56 0 0 0 13.20,0 v-55.34 z" fill="url(#pg)"/>
<ellipse cx="218.00" cy="269.06" rx="6.90" ry="3.90" fill="#04b4ff"/>
<path d="M238.96,269.06 v55.34 a6.60,1.56 0 0 0 13.20,0 v-55.34 z" fill="url(#pg)"/>
<ellipse cx="245.56" cy="269.06" rx="6.90" ry="3.90" fill="#04b4ff"/>
<path d="M266.52,269.06 v55.34 a6.60,1.56 0 0 0 13.20,0 v-55.34 z" fill="url(#pg)"/>
<ellipse cx="273.12" cy="269.06" rx="6.90" ry="3.90" fill="#04b4ff"/>
<path d="M294.08,269.06 v55.34 a6.60,1.56 0 0 0 13.20,0 v-55.34 z" fill="url(#pg)"/>
<ellipse cx="300.68" cy="269.06" rx="6.90" ry="3.90" fill="#04b4ff"/>
<path d="M142.50,277.38 v55.34 a6.60,1.56 0 0 0 13.20,0 v-55.34 z" fill="url(#pg)"/>
<ellipse cx="149.10" cy="277.38" rx="6.90" ry="3.90" fill="#04b4ff"/>
<path d="M170.06,277.38 v55.34 a6.60,1.56 0 0 0 13.20,0 v-55.34 z" fill="url(#pg)"/>
<ellipse cx="176.66" cy="277.38" rx="6.90" ry="3.90" fill="#04b4ff"/>
<path d="M197.62,277.38 v55.34 a6.60,1.56 0 0 0 13.20,0 v-55.34 z" fill="url(#pg)"/>
<ellipse cx="204.22" cy="277.38" rx="6.90" ry="3.90" fill="#04b4ff"/>
<path d="M225.18,277.38 v55.34 a6.60,1.56 0 0 0 13.20,0 v-55.34 z" fill="url(#pg)"/>
<ellipse cx="231.78" cy="277.38" rx="6.90" ry="3.90" fill="#04b4ff"/>
<path d="M252.74,277.38 v55.34 a6.60,1.56 0 0 0 13.20,0 v-55.34 z" fill="url(#pg)"/>
<ellipse cx="259.34" cy="277.38" rx="6.90" ry="3.90" fill="#04b4ff"/>
<path d="M280.30,277.38 v55.34 a6.60,1.56 0 0 0 13.20,0 v-55.34 z" fill="url(#pg)"/>
<ellipse cx="286.90" cy="277.38" rx="6.90" ry="3.90" fill="#04b4ff"/>
<path d="M156.28,285.70 v55.34 a6.60,1.56 0 0 0 13.20,0 v-55.34 z" fill="url(#pg)"/>
<ellipse cx="162.88" cy="285.70" rx="6.90" ry="3.90" fill="#04b4ff"/>
<path d="M183.84,285.70 v55.34 a6.60,1.56 0 0 0 13.20,0 v-55.34 z" fill="url(#pg)"/>
<ellipse cx="190.44" cy="285.70" rx="6.90" ry="3.90" fill="#04b4ff"/>
<path d="M211.40,285.70 v55.34 a6.60,1.56 0 0 0 13.20,0 v-55.34 z" fill="url(#pg)"/>
<ellipse cx="218.00" cy="285.70" rx="6.90" ry="3.90" fill="#04b4ff"/>
<path d="M238.96,285.70 v55.34 a6.60,1.56 0 0 0 13.20,0 v-55.34 z" fill="url(#pg)"/>
<ellipse cx="245.56" cy="285.70" rx="6.90" ry="3.90" fill="#04b4ff"/>
<path d="M266.52,285.70 v55.34 a6.60,1.56 0 0 0 13.20,0 v-55.34 z" fill="url(#pg)"/>
<ellipse cx="273.12" cy="285.70" rx="6.90" ry="3.90" fill="#04b4ff"/>
<path d="M170.06,294.02 v55.34 a6.60,1.56 0 0 0 13.20,0 v-55.34 z" fill="url(#pg)"/>
<ellipse cx="176.66" cy="294.02" rx="6.90" ry="3.90" fill="#04b4ff"/>
<path d="M197.62,294.02 v55.34 a6.60,1.56 0 0 0 13.20,0 v-55.34 z" fill="url(#pg)"/>
<ellipse cx="204.22" cy="294.02" rx="6.90" ry="3.90" fill="#04b4ff"/>
<path d="M225.18,294.02 v55.34 a6.60,1.56 0 0 0 13.20,0 v-55.34 z" fill="url(#pg)"/>
<ellipse cx="231.78" cy="294.02" rx="6.90" ry="3.90" fill="#04b4ff"/>
<path d="M252.74,294.02 v55.34 a6.60,1.56 0 0 0 13.20,0 v-55.34 z" fill="url(#pg)"/>
<ellipse cx="259.34" cy="294.02" rx="6.90" ry="3.90" fill="#04b4ff"/>
<path d="M183.84,302.34 v55.34 a6.60,1.56 0 0 0 13.20,0 v-55.34 z" fill="url(#pg)"/>
<ellipse cx="190.44" cy="302.34" rx="6.90" ry="3.90" fill="#04b4ff"/>
<path d="M211.40,302.34 v55.34 a6.60,1.56 0 0 0 13.20,0 v-55.34 z" fill="url(#pg)"/>
<ellipse cx="218.00" cy="302.34" rx="6.90" ry="3.90" fill="#04b4ff"/>
<path d="M238.96,302.34 v55.34 a6.60,1.56 0 0 0 13.20,0 v-55.34 z" fill="url(#pg)"/>
<ellipse cx="245.56" cy="302.34" rx="6.90" ry="3.90" fill="#04b4ff"/>
<path d="M197.62,310.66 v55.34 a6.60,1.56 0 0 0 13.20,0 v-55.34 z" fill="url(#pg)"/>
<ellipse cx="204.22" cy="310.66" rx="6.90" ry="3.90" fill="#04b4ff"/>
<path d="M225.18,310.66 v55.34 a6.60,1.56 0 0 0 13.20,0 v-55.34 z" fill="url(#pg)"/>
<ellipse cx="231.78" cy="310.66" rx="6.90" ry="3.90" fill="#04b4ff"/>
<path d="M211.40,318.98 v55.34 a6.60,1.56 0 0 0 13.20,0 v-55.34 z" fill="url(#pg)"/>
<ellipse cx="218.00" cy="318.98" rx="6.90" ry="3.90" fill="#04b4ff"/>
<g fill="none" stroke="#000" stroke-width="7.3" stroke-linejoin="miter">
<polygon points="218.40,80.40 378.20,178.00 218.40,275.60 58.60,178.00" fill="none" />
<line x1="138.50" y1="129.20" x2="298.30" y2="226.80"/>
<line x1="298.30" y1="129.20" x2="138.50" y2="226.80"/>
</g>
<line x1="370.00" y1="187.00" x2="426.06" y2="192.86" stroke="#111" stroke-width="1.6"/>
<polygon points="437.00,194.00 425.54,197.83 426.58,187.88" fill="#000" />
<line x1="365.00" y1="245.00" x2="427.07" y2="251.80" stroke="#111" stroke-width="1.6"/>
<polygon points="438.00,253.00 426.52,256.77 427.61,246.83" fill="#000" />
<line x1="362.00" y1="307.00" x2="426.05" y2="312.98" stroke="#111" stroke-width="1.6"/>
<polygon points="437.00,314.00 425.58,317.96 426.51,308.00" fill="#000" />
<line x1="362.00" y1="360.00" x2="426.06" y2="366.83" stroke="#111" stroke-width="1.6"/>
<polygon points="437.00,368.00 425.53,371.81 426.59,361.86" fill="#000" />
<line x1="362.00" y1="417.00" x2="425.06" y2="423.82" stroke="#111" stroke-width="1.6"/>
<polygon points="436.00,425.00 424.53,428.79 425.60,418.85" fill="#000" />
<text x="449.00" y="209.30" font-size="31" font-weight="normal" text-anchor="start" fill="#111" >Carbon paint</text>
<text x="452.00" y="264.00" font-size="31" font-weight="normal" text-anchor="start" fill="#111" >SiNWs</text>
<text x="457.00" y="320.00" font-size="31" font-weight="normal" text-anchor="start" fill="#111" >n-Si</text>
<text x="453.00" y="376.50" font-size="31" font-weight="normal" text-anchor="start" fill="#111" >In-Ga</text>
<text x="454.00" y="437.00" font-size="31" font-weight="normal" text-anchor="start" fill="#111" >Cu</text>
<line x1="338" y1="107.5" x2="655" y2="174.5" stroke="#ff1a1a" stroke-width="2.8" stroke-dasharray="10.6 7"/>
<line x1="324" y1="502" x2="642" y2="441" stroke="#ff1a1a" stroke-width="2.8" stroke-dasharray="10.6 7"/>
<polygon points="565.50,343.30 767.90,464.30 767.90,481.70 565.50,358.40" fill="#7b6759" />
<polygon points="969.50,343.30 767.50,464.30 767.50,481.70 969.50,356.90" fill="#b4957e" />
<polygon points="767.50,222.70 969.50,343.70 767.50,464.70 565.50,343.70" fill="#c0a189" />
<polygon points="578.50,301.90 767.40,412.90 767.40,460.90 578.50,346.60" fill="#023e72" />
<polygon points="955.50,301.90 767.00,412.90 767.00,460.90 955.50,347.80" fill="#0070c6" />
<polygon points="767.00,191.30 955.50,302.30 767.00,413.30 578.50,302.30" fill="#00b4ff" />
<path d="M760.10,151.00 v55.34 a6.60,1.56 0 0 0 13.20,0 v-55.34 z" fill="url(#pg)"/>
<ellipse cx="766.70" cy="151.00" rx="6.90" ry="3.90" fill="#04b4ff"/>
<path d="M746.22,159.32 v55.34 a6.60,1.56 0 0 0 13.20,0 v-55.34 z" fill="url(#pg)"/>
<ellipse cx="752.82" cy="159.32" rx="6.90" ry="3.90" fill="#04b4ff"/>
<path d="M773.98,159.32 v55.34 a6.60,1.56 0 0 0 13.20,0 v-55.34 z" fill="url(#pg)"/>
<ellipse cx="780.58" cy="159.32" rx="6.90" ry="3.90" fill="#04b4ff"/>
<path d="M732.34,167.64 v55.34 a6.60,1.56 0 0 0 13.20,0 v-55.34 z" fill="url(#pg)"/>
<ellipse cx="738.94" cy="167.64" rx="6.90" ry="3.90" fill="#04b4ff"/>
<path d="M760.10,167.64 v55.34 a6.60,1.56 0 0 0 13.20,0 v-55.34 z" fill="url(#pg)"/>
<ellipse cx="766.70" cy="167.64" rx="6.90" ry="3.90" fill="#04b4ff"/>
<path d="M787.86,167.64 v55.34 a6.60,1.56 0 0 0 13.20,0 v-55.34 z" fill="url(#pg)"/>
<ellipse cx="794.46" cy="167.64" rx="6.90" ry="3.90" fill="#04b4ff"/>
<path d="M718.46,175.96 v55.34 a6.60,1.56 0 0 0 13.20,0 v-55.34 z" fill="url(#pg)"/>
<ellipse cx="725.06" cy="175.96" rx="6.90" ry="3.90" fill="#04b4ff"/>
<path d="M746.22,175.96 v55.34 a6.60,1.56 0 0 0 13.20,0 v-55.34 z" fill="url(#pg)"/>
<ellipse cx="752.82" cy="175.96" rx="6.90" ry="3.90" fill="#04b4ff"/>
<path d="M773.98,175.96 v55.34 a6.60,1.56 0 0 0 13.20,0 v-55.34 z" fill="url(#pg)"/>
<ellipse cx="780.58" cy="175.96" rx="6.90" ry="3.90" fill="#04b4ff"/>
<path d="M801.74,175.96 v55.34 a6.60,1.56 0 0 0 13.20,0 v-55.34 z" fill="url(#pg)"/>
<ellipse cx="808.34" cy="175.96" rx="6.90" ry="3.90" fill="#04b4ff"/>
<path d="M704.58,184.28 v55.34 a6.60,1.56 0 0 0 13.20,0 v-55.34 z" fill="url(#pg)"/>
<ellipse cx="711.18" cy="184.28" rx="6.90" ry="3.90" fill="#04b4ff"/>
<path d="M732.34,184.28 v55.34 a6.60,1.56 0 0 0 13.20,0 v-55.34 z" fill="url(#pg)"/>
<ellipse cx="738.94" cy="184.28" rx="6.90" ry="3.90" fill="#04b4ff"/>
<path d="M760.10,184.28 v55.34 a6.60,1.56 0 0 0 13.20,0 v-55.34 z" fill="url(#pg)"/>
<ellipse cx="766.70" cy="184.28" rx="6.90" ry="3.90" fill="#04b4ff"/>
<path d="M787.86,184.28 v55.34 a6.60,1.56 0 0 0 13.20,0 v-55.34 z" fill="url(#pg)"/>
<ellipse cx="794.46" cy="184.28" rx="6.90" ry="3.90" fill="#04b4ff"/>
<path d="M815.62,184.28 v55.34 a6.60,1.56 0 0 0 13.20,0 v-55.34 z" fill="url(#pg)"/>
<ellipse cx="822.22" cy="184.28" rx="6.90" ry="3.90" fill="#04b4ff"/>
<path d="M690.70,192.60 v55.34 a6.60,1.56 0 0 0 13.20,0 v-55.34 z" fill="url(#pg)"/>
<ellipse cx="697.30" cy="192.60" rx="6.90" ry="3.90" fill="#04b4ff"/>
<path d="M718.46,192.60 v55.34 a6.60,1.56 0 0 0 13.20,0 v-55.34 z" fill="url(#pg)"/>
<ellipse cx="725.06" cy="192.60" rx="6.90" ry="3.90" fill="#04b4ff"/>
<path d="M746.22,192.60 v55.34 a6.60,1.56 0 0 0 13.20,0 v-55.34 z" fill="url(#pg)"/>
<ellipse cx="752.82" cy="192.60" rx="6.90" ry="3.90" fill="#04b4ff"/>
<path d="M773.98,192.60 v55.34 a6.60,1.56 0 0 0 13.20,0 v-55.34 z" fill="url(#pg)"/>
<ellipse cx="780.58" cy="192.60" rx="6.90" ry="3.90" fill="#04b4ff"/>
<path d="M801.74,192.60 v55.34 a6.60,1.56 0 0 0 13.20,0 v-55.34 z" fill="url(#pg)"/>
<ellipse cx="808.34" cy="192.60" rx="6.90" ry="3.90" fill="#04b4ff"/>
<path d="M829.50,192.60 v55.34 a6.60,1.56 0 0 0 13.20,0 v-55.34 z" fill="url(#pg)"/>
<ellipse cx="836.10" cy="192.60" rx="6.90" ry="3.90" fill="#04b4ff"/>
<path d="M676.82,200.92 v55.34 a6.60,1.56 0 0 0 13.20,0 v-55.34 z" fill="url(#pg)"/>
<ellipse cx="683.42" cy="200.92" rx="6.90" ry="3.90" fill="#04b4ff"/>
<path d="M704.58,200.92 v55.34 a6.60,1.56 0 0 0 13.20,0 v-55.34 z" fill="url(#pg)"/>
<ellipse cx="711.18" cy="200.92" rx="6.90" ry="3.90" fill="#04b4ff"/>
<path d="M732.34,200.92 v55.34 a6.60,1.56 0 0 0 13.20,0 v-55.34 z" fill="url(#pg)"/>
<ellipse cx="738.94" cy="200.92" rx="6.90" ry="3.90" fill="#04b4ff"/>
<path d="M760.10,200.92 v55.34 a6.60,1.56 0 0 0 13.20,0 v-55.34 z" fill="url(#pg)"/>
<ellipse cx="766.70" cy="200.92" rx="6.90" ry="3.90" fill="#04b4ff"/>
<path d="M787.86,200.92 v55.34 a6.60,1.56 0 0 0 13.20,0 v-55.34 z" fill="url(#pg)"/>
<ellipse cx="794.46" cy="200.92" rx="6.90" ry="3.90" fill="#04b4ff"/>
<path d="M815.62,200.92 v55.34 a6.60,1.56 0 0 0 13.20,0 v-55.34 z" fill="url(#pg)"/>
<ellipse cx="822.22" cy="200.92" rx="6.90" ry="3.90" fill="#04b4ff"/>
<path d="M843.38,200.92 v55.34 a6.60,1.56 0 0 0 13.20,0 v-55.34 z" fill="url(#pg)"/>
<ellipse cx="849.98" cy="200.92" rx="6.90" ry="3.90" fill="#04b4ff"/>
<path d="M662.94,209.24 v55.34 a6.60,1.56 0 0 0 13.20,0 v-55.34 z" fill="url(#pg)"/>
<ellipse cx="669.54" cy="209.24" rx="6.90" ry="3.90" fill="#04b4ff"/>
<path d="M690.70,209.24 v55.34 a6.60,1.56 0 0 0 13.20,0 v-55.34 z" fill="url(#pg)"/>
<ellipse cx="697.30" cy="209.24" rx="6.90" ry="3.90" fill="#04b4ff"/>
<path d="M718.46,209.24 v55.34 a6.60,1.56 0 0 0 13.20,0 v-55.34 z" fill="url(#pg)"/>
<ellipse cx="725.06" cy="209.24" rx="6.90" ry="3.90" fill="#04b4ff"/>
<path d="M746.22,209.24 v55.34 a6.60,1.56 0 0 0 13.20,0 v-55.34 z" fill="url(#pg)"/>
<ellipse cx="752.82" cy="209.24" rx="6.90" ry="3.90" fill="#04b4ff"/>
<path d="M773.98,209.24 v55.34 a6.60,1.56 0 0 0 13.20,0 v-55.34 z" fill="url(#pg)"/>
<ellipse cx="780.58" cy="209.24" rx="6.90" ry="3.90" fill="#04b4ff"/>
<path d="M801.74,209.24 v55.34 a6.60,1.56 0 0 0 13.20,0 v-55.34 z" fill="url(#pg)"/>
<ellipse cx="808.34" cy="209.24" rx="6.90" ry="3.90" fill="#04b4ff"/>
<path d="M829.50,209.24 v55.34 a6.60,1.56 0 0 0 13.20,0 v-55.34 z" fill="url(#pg)"/>
<ellipse cx="836.10" cy="209.24" rx="6.90" ry="3.90" fill="#04b4ff"/>
<path d="M857.26,209.24 v55.34 a6.60,1.56 0 0 0 13.20,0 v-55.34 z" fill="url(#pg)"/>
<ellipse cx="863.86" cy="209.24" rx="6.90" ry="3.90" fill="#04b4ff"/>
<path d="M649.06,217.56 v55.34 a6.60,1.56 0 0 0 13.20,0 v-55.34 z" fill="url(#pg)"/>
<ellipse cx="655.66" cy="217.56" rx="6.90" ry="3.90" fill="#04b4ff"/>
<path d="M676.82,217.56 v55.34 a6.60,1.56 0 0 0 13.20,0 v-55.34 z" fill="url(#pg)"/>
<ellipse cx="683.42" cy="217.56" rx="6.90" ry="3.90" fill="#04b4ff"/>
<path d="M704.58,217.56 v55.34 a6.60,1.56 0 0 0 13.20,0 v-55.34 z" fill="url(#pg)"/>
<ellipse cx="711.18" cy="217.56" rx="6.90" ry="3.90" fill="#04b4ff"/>
<path d="M732.34,217.56 v55.34 a6.60,1.56 0 0 0 13.20,0 v-55.34 z" fill="url(#pg)"/>
<ellipse cx="738.94" cy="217.56" rx="6.90" ry="3.90" fill="#04b4ff"/>
<path d="M760.10,217.56 v55.34 a6.60,1.56 0 0 0 13.20,0 v-55.34 z" fill="url(#pg)"/>
<ellipse cx="766.70" cy="217.56" rx="6.90" ry="3.90" fill="#04b4ff"/>
<path d="M787.86,217.56 v55.34 a6.60,1.56 0 0 0 13.20,0 v-55.34 z" fill="url(#pg)"/>
<ellipse cx="794.46" cy="217.56" rx="6.90" ry="3.90" fill="#04b4ff"/>
<path d="M815.62,217.56 v55.34 a6.60,1.56 0 0 0 13.20,0 v-55.34 z" fill="url(#pg)"/>
<ellipse cx="822.22" cy="217.56" rx="6.90" ry="3.90" fill="#04b4ff"/>
<path d="M843.38,217.56 v55.34 a6.60,1.56 0 0 0 13.20,0 v-55.34 z" fill="url(#pg)"/>
<ellipse cx="849.98" cy="217.56" rx="6.90" ry="3.90" fill="#04b4ff"/>
<path d="M871.14,217.56 v55.34 a6.60,1.56 0 0 0 13.20,0 v-55.34 z" fill="url(#pg)"/>
<ellipse cx="877.74" cy="217.56" rx="6.90" ry="3.90" fill="#04b4ff"/>
<path d="M635.18,225.88 v55.34 a6.60,1.56 0 0 0 13.20,0 v-55.34 z" fill="url(#pg)"/>
<ellipse cx="641.78" cy="225.88" rx="6.90" ry="3.90" fill="#04b4ff"/>
<path d="M662.94,225.88 v55.34 a6.60,1.56 0 0 0 13.20,0 v-55.34 z" fill="url(#pg)"/>
<ellipse cx="669.54" cy="225.88" rx="6.90" ry="3.90" fill="#04b4ff"/>
<path d="M690.70,225.88 v55.34 a6.60,1.56 0 0 0 13.20,0 v-55.34 z" fill="url(#pg)"/>
<ellipse cx="697.30" cy="225.88" rx="6.90" ry="3.90" fill="#04b4ff"/>
<path d="M718.46,225.88 v55.34 a6.60,1.56 0 0 0 13.20,0 v-55.34 z" fill="url(#pg)"/>
<ellipse cx="725.06" cy="225.88" rx="6.90" ry="3.90" fill="#04b4ff"/>
<path d="M746.22,225.88 v55.34 a6.60,1.56 0 0 0 13.20,0 v-55.34 z" fill="url(#pg)"/>
<ellipse cx="752.82" cy="225.88" rx="6.90" ry="3.90" fill="#04b4ff"/>
<path d="M773.98,225.88 v55.34 a6.60,1.56 0 0 0 13.20,0 v-55.34 z" fill="url(#pg)"/>
<ellipse cx="780.58" cy="225.88" rx="6.90" ry="3.90" fill="#04b4ff"/>
<path d="M801.74,225.88 v55.34 a6.60,1.56 0 0 0 13.20,0 v-55.34 z" fill="url(#pg)"/>
<ellipse cx="808.34" cy="225.88" rx="6.90" ry="3.90" fill="#04b4ff"/>
<path d="M829.50,225.88 v55.34 a6.60,1.56 0 0 0 13.20,0 v-55.34 z" fill="url(#pg)"/>
<ellipse cx="836.10" cy="225.88" rx="6.90" ry="3.90" fill="#04b4ff"/>
<path d="M857.26,225.88 v55.34 a6.60,1.56 0 0 0 13.20,0 v-55.34 z" fill="url(#pg)"/>
<ellipse cx="863.86" cy="225.88" rx="6.90" ry="3.90" fill="#04b4ff"/>
<path d="M885.02,225.88 v55.34 a6.60,1.56 0 0 0 13.20,0 v-55.34 z" fill="url(#pg)"/>
<ellipse cx="891.62" cy="225.88" rx="6.90" ry="3.90" fill="#04b4ff"/>
<path d="M621.30,234.20 v55.34 a6.60,1.56 0 0 0 13.20,0 v-55.34 z" fill="url(#pg)"/>
<ellipse cx="627.90" cy="234.20" rx="6.90" ry="3.90" fill="#04b4ff"/>
<path d="M649.06,234.20 v55.34 a6.60,1.56 0 0 0 13.20,0 v-55.34 z" fill="url(#pg)"/>
<ellipse cx="655.66" cy="234.20" rx="6.90" ry="3.90" fill="#04b4ff"/>
<path d="M676.82,234.20 v55.34 a6.60,1.56 0 0 0 13.20,0 v-55.34 z" fill="url(#pg)"/>
<ellipse cx="683.42" cy="234.20" rx="6.90" ry="3.90" fill="#04b4ff"/>
<path d="M704.58,234.20 v55.34 a6.60,1.56 0 0 0 13.20,0 v-55.34 z" fill="url(#pg)"/>
<ellipse cx="711.18" cy="234.20" rx="6.90" ry="3.90" fill="#04b4ff"/>
<path d="M732.34,234.20 v55.34 a6.60,1.56 0 0 0 13.20,0 v-55.34 z" fill="url(#pg)"/>
<ellipse cx="738.94" cy="234.20" rx="6.90" ry="3.90" fill="#04b4ff"/>
<path d="M760.10,234.20 v55.34 a6.60,1.56 0 0 0 13.20,0 v-55.34 z" fill="url(#pg)"/>
<ellipse cx="766.70" cy="234.20" rx="6.90" ry="3.90" fill="#04b4ff"/>
<path d="M787.86,234.20 v55.34 a6.60,1.56 0 0 0 13.20,0 v-55.34 z" fill="url(#pg)"/>
<ellipse cx="794.46" cy="234.20" rx="6.90" ry="3.90" fill="#04b4ff"/>
<path d="M815.62,234.20 v55.34 a6.60,1.56 0 0 0 13.20,0 v-55.34 z" fill="url(#pg)"/>
<ellipse cx="822.22" cy="234.20" rx="6.90" ry="3.90" fill="#04b4ff"/>
<path d="M843.38,234.20 v55.34 a6.60,1.56 0 0 0 13.20,0 v-55.34 z" fill="url(#pg)"/>
<ellipse cx="849.98" cy="234.20" rx="6.90" ry="3.90" fill="#04b4ff"/>
<path d="M871.14,234.20 v55.34 a6.60,1.56 0 0 0 13.20,0 v-55.34 z" fill="url(#pg)"/>
<ellipse cx="877.74" cy="234.20" rx="6.90" ry="3.90" fill="#04b4ff"/>
<path d="M898.90,234.20 v55.34 a6.60,1.56 0 0 0 13.20,0 v-55.34 z" fill="url(#pg)"/>
<ellipse cx="905.50" cy="234.20" rx="6.90" ry="3.90" fill="#04b4ff"/>
<path d="M607.42,242.52 v55.34 a6.60,1.56 0 0 0 13.20,0 v-55.34 z" fill="url(#pg)"/>
<ellipse cx="614.02" cy="242.52" rx="6.90" ry="3.90" fill="#04b4ff"/>
<path d="M635.18,242.52 v55.34 a6.60,1.56 0 0 0 13.20,0 v-55.34 z" fill="url(#pg)"/>
<ellipse cx="641.78" cy="242.52" rx="6.90" ry="3.90" fill="#04b4ff"/>
<path d="M662.94,242.52 v55.34 a6.60,1.56 0 0 0 13.20,0 v-55.34 z" fill="url(#pg)"/>
<ellipse cx="669.54" cy="242.52" rx="6.90" ry="3.90" fill="#04b4ff"/>
<path d="M690.70,242.52 v55.34 a6.60,1.56 0 0 0 13.20,0 v-55.34 z" fill="url(#pg)"/>
<ellipse cx="697.30" cy="242.52" rx="6.90" ry="3.90" fill="#04b4ff"/>
<path d="M718.46,242.52 v55.34 a6.60,1.56 0 0 0 13.20,0 v-55.34 z" fill="url(#pg)"/>
<ellipse cx="725.06" cy="242.52" rx="6.90" ry="3.90" fill="#04b4ff"/>
<path d="M746.22,242.52 v55.34 a6.60,1.56 0 0 0 13.20,0 v-55.34 z" fill="url(#pg)"/>
<ellipse cx="752.82" cy="242.52" rx="6.90" ry="3.90" fill="#04b4ff"/>
<path d="M773.98,242.52 v55.34 a6.60,1.56 0 0 0 13.20,0 v-55.34 z" fill="url(#pg)"/>
<ellipse cx="780.58" cy="242.52" rx="6.90" ry="3.90" fill="#04b4ff"/>
<path d="M801.74,242.52 v55.34 a6.60,1.56 0 0 0 13.20,0 v-55.34 z" fill="url(#pg)"/>
<ellipse cx="808.34" cy="242.52" rx="6.90" ry="3.90" fill="#04b4ff"/>
<path d="M829.50,242.52 v55.34 a6.60,1.56 0 0 0 13.20,0 v-55.34 z" fill="url(#pg)"/>
<ellipse cx="836.10" cy="242.52" rx="6.90" ry="3.90" fill="#04b4ff"/>
<path d="M857.26,242.52 v55.34 a6.60,1.56 0 0 0 13.20,0 v-55.34 z" fill="url(#pg)"/>
<ellipse cx="863.86" cy="242.52" rx="6.90" ry="3.90" fill="#04b4ff"/>
<path d="M885.02,242.52 v55.34 a6.60,1.56 0 0 0 13.20,0 v-55.34 z" fill="url(#pg)"/>
<ellipse cx="891.62" cy="242.52" rx="6.90" ry="3.90" fill="#04b4ff"/>
<path d="M912.78,242.52 v55.34 a6.60,1.56 0 0 0 13.20,0 v-55.34 z" fill="url(#pg)"/>
<ellipse cx="919.38" cy="242.52" rx="6.90" ry="3.90" fill="#04b4ff"/>
<path d="M593.54,250.84 v55.34 a6.60,1.56 0 0 0 13.20,0 v-55.34 z" fill="url(#pg)"/>
<ellipse cx="600.14" cy="250.84" rx="6.90" ry="3.90" fill="#04b4ff"/>
<path d="M621.30,250.84 v55.34 a6.60,1.56 0 0 0 13.20,0 v-55.34 z" fill="url(#pg)"/>
<ellipse cx="627.90" cy="250.84" rx="6.90" ry="3.90" fill="#04b4ff"/>
<path d="M649.06,250.84 v55.34 a6.60,1.56 0 0 0 13.20,0 v-55.34 z" fill="url(#pg)"/>
<ellipse cx="655.66" cy="250.84" rx="6.90" ry="3.90" fill="#04b4ff"/>
<path d="M676.82,250.84 v55.34 a6.60,1.56 0 0 0 13.20,0 v-55.34 z" fill="url(#pg)"/>
<ellipse cx="683.42" cy="250.84" rx="6.90" ry="3.90" fill="#04b4ff"/>
<path d="M704.58,250.84 v55.34 a6.60,1.56 0 0 0 13.20,0 v-55.34 z" fill="url(#pg)"/>
<ellipse cx="711.18" cy="250.84" rx="6.90" ry="3.90" fill="#04b4ff"/>
<path d="M732.34,250.84 v55.34 a6.60,1.56 0 0 0 13.20,0 v-55.34 z" fill="url(#pg)"/>
<ellipse cx="738.94" cy="250.84" rx="6.90" ry="3.90" fill="#04b4ff"/>
<path d="M760.10,250.84 v55.34 a6.60,1.56 0 0 0 13.20,0 v-55.34 z" fill="url(#pg)"/>
<ellipse cx="766.70" cy="250.84" rx="6.90" ry="3.90" fill="#04b4ff"/>
<path d="M787.86,250.84 v55.34 a6.60,1.56 0 0 0 13.20,0 v-55.34 z" fill="url(#pg)"/>
<ellipse cx="794.46" cy="250.84" rx="6.90" ry="3.90" fill="#04b4ff"/>
<path d="M815.62,250.84 v55.34 a6.60,1.56 0 0 0 13.20,0 v-55.34 z" fill="url(#pg)"/>
<ellipse cx="822.22" cy="250.84" rx="6.90" ry="3.90" fill="#04b4ff"/>
<path d="M843.38,250.84 v55.34 a6.60,1.56 0 0 0 13.20,0 v-55.34 z" fill="url(#pg)"/>
<ellipse cx="849.98" cy="250.84" rx="6.90" ry="3.90" fill="#04b4ff"/>
<path d="M871.14,250.84 v55.34 a6.60,1.56 0 0 0 13.20,0 v-55.34 z" fill="url(#pg)"/>
<ellipse cx="877.74" cy="250.84" rx="6.90" ry="3.90" fill="#04b4ff"/>
<path d="M898.90,250.84 v55.34 a6.60,1.56 0 0 0 13.20,0 v-55.34 z" fill="url(#pg)"/>
<ellipse cx="905.50" cy="250.84" rx="6.90" ry="3.90" fill="#04b4ff"/>
<path d="M926.66,250.84 v55.34 a6.60,1.56 0 0 0 13.20,0 v-55.34 z" fill="url(#pg)"/>
<ellipse cx="933.26" cy="250.84" rx="6.90" ry="3.90" fill="#04b4ff"/>
<path d="M607.42,259.16 v55.34 a6.60,1.56 0 0 0 13.20,0 v-55.34 z" fill="url(#pg)"/>
<ellipse cx="614.02" cy="259.16" rx="6.90" ry="3.90" fill="#04b4ff"/>
<path d="M635.18,259.16 v55.34 a6.60,1.56 0 0 0 13.20,0 v-55.34 z" fill="url(#pg)"/>
<ellipse cx="641.78" cy="259.16" rx="6.90" ry="3.90" fill="#04b4ff"/>
<path d="M662.94,259.16 v55.34 a6.60,1.56 0 0 0 13.20,0 v-55.34 z" fill="url(#pg)"/>
<ellipse cx="669.54" cy="259.16" rx="6.90" ry="3.90" fill="#04b4ff"/>
<path d="M690.70,259.16 v55.34 a6.60,1.56 0 0 0 13.20,0 v-55.34 z" fill="url(#pg)"/>
<ellipse cx="697.30" cy="259.16" rx="6.90" ry="3.90" fill="#04b4ff"/>
<path d="M718.46,259.16 v55.34 a6.60,1.56 0 0 0 13.20,0 v-55.34 z" fill="url(#pg)"/>
<ellipse cx="725.06" cy="259.16" rx="6.90" ry="3.90" fill="#04b4ff"/>
<path d="M746.22,259.16 v55.34 a6.60,1.56 0 0 0 13.20,0 v-55.34 z" fill="url(#pg)"/>
<ellipse cx="752.82" cy="259.16" rx="6.90" ry="3.90" fill="#04b4ff"/>
<path d="M773.98,259.16 v55.34 a6.60,1.56 0 0 0 13.20,0 v-55.34 z" fill="url(#pg)"/>
<ellipse cx="780.58" cy="259.16" rx="6.90" ry="3.90" fill="#04b4ff"/>
<path d="M801.74,259.16 v55.34 a6.60,1.56 0 0 0 13.20,0 v-55.34 z" fill="url(#pg)"/>
<ellipse cx="808.34" cy="259.16" rx="6.90" ry="3.90" fill="#04b4ff"/>
<path d="M829.50,259.16 v55.34 a6.60,1.56 0 0 0 13.20,0 v-55.34 z" fill="url(#pg)"/>
<ellipse cx="836.10" cy="259.16" rx="6.90" ry="3.90" fill="#04b4ff"/>
<path d="M857.26,259.16 v55.34 a6.60,1.56 0 0 0 13.20,0 v-55.34 z" fill="url(#pg)"/>
<ellipse cx="863.86" cy="259.16" rx="6.90" ry="3.90" fill="#04b4ff"/>
<path d="M885.02,259.16 v55.34 a6.60,1.56 0 0 0 13.20,0 v-55.34 z" fill="url(#pg)"/>
<ellipse cx="891.62" cy="259.16" rx="6.90" ry="3.90" fill="#04b4ff"/>
<path d="M912.78,259.16 v55.34 a6.60,1.56 0 0 0 13.20,0 v-55.34 z" fill="url(#pg)"/>
<ellipse cx="919.38" cy="259.16" rx="6.90" ry="3.90" fill="#04b4ff"/>
<path d="M621.30,267.48 v55.34 a6.60,1.56 0 0 0 13.20,0 v-55.34 z" fill="url(#pg)"/>
<ellipse cx="627.90" cy="267.48" rx="6.90" ry="3.90" fill="#04b4ff"/>
<path d="M649.06,267.48 v55.34 a6.60,1.56 0 0 0 13.20,0 v-55.34 z" fill="url(#pg)"/>
<ellipse cx="655.66" cy="267.48" rx="6.90" ry="3.90" fill="#04b4ff"/>
<path d="M676.82,267.48 v55.34 a6.60,1.56 0 0 0 13.20,0 v-55.34 z" fill="url(#pg)"/>
<ellipse cx="683.42" cy="267.48" rx="6.90" ry="3.90" fill="#04b4ff"/>
<path d="M704.58,267.48 v55.34 a6.60,1.56 0 0 0 13.20,0 v-55.34 z" fill="url(#pg)"/>
<ellipse cx="711.18" cy="267.48" rx="6.90" ry="3.90" fill="#04b4ff"/>
<path d="M732.34,267.48 v55.34 a6.60,1.56 0 0 0 13.20,0 v-55.34 z" fill="url(#pg)"/>
<ellipse cx="738.94" cy="267.48" rx="6.90" ry="3.90" fill="#04b4ff"/>
<path d="M760.10,267.48 v55.34 a6.60,1.56 0 0 0 13.20,0 v-55.34 z" fill="url(#pg)"/>
<ellipse cx="766.70" cy="267.48" rx="6.90" ry="3.90" fill="#04b4ff"/>
<path d="M787.86,267.48 v55.34 a6.60,1.56 0 0 0 13.20,0 v-55.34 z" fill="url(#pg)"/>
<ellipse cx="794.46" cy="267.48" rx="6.90" ry="3.90" fill="#04b4ff"/>
<path d="M815.62,267.48 v55.34 a6.60,1.56 0 0 0 13.20,0 v-55.34 z" fill="url(#pg)"/>
<ellipse cx="822.22" cy="267.48" rx="6.90" ry="3.90" fill="#04b4ff"/>
<path d="M843.38,267.48 v55.34 a6.60,1.56 0 0 0 13.20,0 v-55.34 z" fill="url(#pg)"/>
<ellipse cx="849.98" cy="267.48" rx="6.90" ry="3.90" fill="#04b4ff"/>
<path d="M871.14,267.48 v55.34 a6.60,1.56 0 0 0 13.20,0 v-55.34 z" fill="url(#pg)"/>
<ellipse cx="877.74" cy="267.48" rx="6.90" ry="3.90" fill="#04b4ff"/>
<path d="M898.90,267.48 v55.34 a6.60,1.56 0 0 0 13.20,0 v-55.34 z" fill="url(#pg)"/>
<ellipse cx="905.50" cy="267.48" rx="6.90" ry="3.90" fill="#04b4ff"/>
<path d="M635.18,275.80 v55.34 a6.60,1.56 0 0 0 13.20,0 v-55.34 z" fill="url(#pg)"/>
<ellipse cx="641.78" cy="275.80" rx="6.90" ry="3.90" fill="#04b4ff"/>
<path d="M662.94,275.80 v55.34 a6.60,1.56 0 0 0 13.20,0 v-55.34 z" fill="url(#pg)"/>
<ellipse cx="669.54" cy="275.80" rx="6.90" ry="3.90" fill="#04b4ff"/>
<path d="M690.70,275.80 v55.34 a6.60,1.56 0 0 0 13.20,0 v-55.34 z" fill="url(#pg)"/>
<ellipse cx="697.30" cy="275.80" rx="6.90" ry="3.90" fill="#04b4ff"/>
<path d="M718.46,275.80 v55.34 a6.60,1.56 0 0 0 13.20,0 v-55.34 z" fill="url(#pg)"/>
<ellipse cx="725.06" cy="275.80" rx="6.90" ry="3.90" fill="#04b4ff"/>
<path d="M746.22,275.80 v55.34 a6.60,1.56 0 0 0 13.20,0 v-55.34 z" fill="url(#pg)"/>
<ellipse cx="752.82" cy="275.80" rx="6.90" ry="3.90" fill="#04b4ff"/>
<path d="M773.98,275.80 v55.34 a6.60,1.56 0 0 0 13.20,0 v-55.34 z" fill="url(#pg)"/>
<ellipse cx="780.58" cy="275.80" rx="6.90" ry="3.90" fill="#04b4ff"/>
<path d="M801.74,275.80 v55.34 a6.60,1.56 0 0 0 13.20,0 v-55.34 z" fill="url(#pg)"/>
<ellipse cx="808.34" cy="275.80" rx="6.90" ry="3.90" fill="#04b4ff"/>
<path d="M829.50,275.80 v55.34 a6.60,1.56 0 0 0 13.20,0 v-55.34 z" fill="url(#pg)"/>
<ellipse cx="836.10" cy="275.80" rx="6.90" ry="3.90" fill="#04b4ff"/>
<path d="M857.26,275.80 v55.34 a6.60,1.56 0 0 0 13.20,0 v-55.34 z" fill="url(#pg)"/>
<ellipse cx="863.86" cy="275.80" rx="6.90" ry="3.90" fill="#04b4ff"/>
<path d="M885.02,275.80 v55.34 a6.60,1.56 0 0 0 13.20,0 v-55.34 z" fill="url(#pg)"/>
<ellipse cx="891.62" cy="275.80" rx="6.90" ry="3.90" fill="#04b4ff"/>
<path d="M649.06,284.12 v55.34 a6.60,1.56 0 0 0 13.20,0 v-55.34 z" fill="url(#pg)"/>
<ellipse cx="655.66" cy="284.12" rx="6.90" ry="3.90" fill="#04b4ff"/>
<path d="M676.82,284.12 v55.34 a6.60,1.56 0 0 0 13.20,0 v-55.34 z" fill="url(#pg)"/>
<ellipse cx="683.42" cy="284.12" rx="6.90" ry="3.90" fill="#04b4ff"/>
<path d="M704.58,284.12 v55.34 a6.60,1.56 0 0 0 13.20,0 v-55.34 z" fill="url(#pg)"/>
<ellipse cx="711.18" cy="284.12" rx="6.90" ry="3.90" fill="#04b4ff"/>
<path d="M732.34,284.12 v55.34 a6.60,1.56 0 0 0 13.20,0 v-55.34 z" fill="url(#pg)"/>
<ellipse cx="738.94" cy="284.12" rx="6.90" ry="3.90" fill="#04b4ff"/>
<path d="M760.10,284.12 v55.34 a6.60,1.56 0 0 0 13.20,0 v-55.34 z" fill="url(#pg)"/>
<ellipse cx="766.70" cy="284.12" rx="6.90" ry="3.90" fill="#04b4ff"/>
<path d="M787.86,284.12 v55.34 a6.60,1.56 0 0 0 13.20,0 v-55.34 z" fill="url(#pg)"/>
<ellipse cx="794.46" cy="284.12" rx="6.90" ry="3.90" fill="#04b4ff"/>
<path d="M815.62,284.12 v55.34 a6.60,1.56 0 0 0 13.20,0 v-55.34 z" fill="url(#pg)"/>
<ellipse cx="822.22" cy="284.12" rx="6.90" ry="3.90" fill="#04b4ff"/>
<path d="M843.38,284.12 v55.34 a6.60,1.56 0 0 0 13.20,0 v-55.34 z" fill="url(#pg)"/>
<ellipse cx="849.98" cy="284.12" rx="6.90" ry="3.90" fill="#04b4ff"/>
<path d="M871.14,284.12 v55.34 a6.60,1.56 0 0 0 13.20,0 v-55.34 z" fill="url(#pg)"/>
<ellipse cx="877.74" cy="284.12" rx="6.90" ry="3.90" fill="#04b4ff"/>
<path d="M662.94,292.44 v55.34 a6.60,1.56 0 0 0 13.20,0 v-55.34 z" fill="url(#pg)"/>
<ellipse cx="669.54" cy="292.44" rx="6.90" ry="3.90" fill="#04b4ff"/>
<path d="M690.70,292.44 v55.34 a6.60,1.56 0 0 0 13.20,0 v-55.34 z" fill="url(#pg)"/>
<ellipse cx="697.30" cy="292.44" rx="6.90" ry="3.90" fill="#04b4ff"/>
<path d="M718.46,292.44 v55.34 a6.60,1.56 0 0 0 13.20,0 v-55.34 z" fill="url(#pg)"/>
<ellipse cx="725.06" cy="292.44" rx="6.90" ry="3.90" fill="#04b4ff"/>
<path d="M746.22,292.44 v55.34 a6.60,1.56 0 0 0 13.20,0 v-55.34 z" fill="url(#pg)"/>
<ellipse cx="752.82" cy="292.44" rx="6.90" ry="3.90" fill="#04b4ff"/>
<path d="M773.98,292.44 v55.34 a6.60,1.56 0 0 0 13.20,0 v-55.34 z" fill="url(#pg)"/>
<ellipse cx="780.58" cy="292.44" rx="6.90" ry="3.90" fill="#04b4ff"/>
<path d="M801.74,292.44 v55.34 a6.60,1.56 0 0 0 13.20,0 v-55.34 z" fill="url(#pg)"/>
<ellipse cx="808.34" cy="292.44" rx="6.90" ry="3.90" fill="#04b4ff"/>
<path d="M829.50,292.44 v55.34 a6.60,1.56 0 0 0 13.20,0 v-55.34 z" fill="url(#pg)"/>
<ellipse cx="836.10" cy="292.44" rx="6.90" ry="3.90" fill="#04b4ff"/>
<path d="M857.26,292.44 v55.34 a6.60,1.56 0 0 0 13.20,0 v-55.34 z" fill="url(#pg)"/>
<ellipse cx="863.86" cy="292.44" rx="6.90" ry="3.90" fill="#04b4ff"/>
<path d="M676.82,300.76 v55.34 a6.60,1.56 0 0 0 13.20,0 v-55.34 z" fill="url(#pg)"/>
<ellipse cx="683.42" cy="300.76" rx="6.90" ry="3.90" fill="#04b4ff"/>
<path d="M704.58,300.76 v55.34 a6.60,1.56 0 0 0 13.20,0 v-55.34 z" fill="url(#pg)"/>
<ellipse cx="711.18" cy="300.76" rx="6.90" ry="3.90" fill="#04b4ff"/>
<path d="M732.34,300.76 v55.34 a6.60,1.56 0 0 0 13.20,0 v-55.34 z" fill="url(#pg)"/>
<ellipse cx="738.94" cy="300.76" rx="6.90" ry="3.90" fill="#04b4ff"/>
<path d="M760.10,300.76 v55.34 a6.60,1.56 0 0 0 13.20,0 v-55.34 z" fill="url(#pg)"/>
<ellipse cx="766.70" cy="300.76" rx="6.90" ry="3.90" fill="#04b4ff"/>
<path d="M787.86,300.76 v55.34 a6.60,1.56 0 0 0 13.20,0 v-55.34 z" fill="url(#pg)"/>
<ellipse cx="794.46" cy="300.76" rx="6.90" ry="3.90" fill="#04b4ff"/>
<path d="M815.62,300.76 v55.34 a6.60,1.56 0 0 0 13.20,0 v-55.34 z" fill="url(#pg)"/>
<ellipse cx="822.22" cy="300.76" rx="6.90" ry="3.90" fill="#04b4ff"/>
<path d="M843.38,300.76 v55.34 a6.60,1.56 0 0 0 13.20,0 v-55.34 z" fill="url(#pg)"/>
<ellipse cx="849.98" cy="300.76" rx="6.90" ry="3.90" fill="#04b4ff"/>
<path d="M690.70,309.08 v55.34 a6.60,1.56 0 0 0 13.20,0 v-55.34 z" fill="url(#pg)"/>
<ellipse cx="697.30" cy="309.08" rx="6.90" ry="3.90" fill="#04b4ff"/>
<path d="M718.46,309.08 v55.34 a6.60,1.56 0 0 0 13.20,0 v-55.34 z" fill="url(#pg)"/>
<ellipse cx="725.06" cy="309.08" rx="6.90" ry="3.90" fill="#04b4ff"/>
<path d="M746.22,309.08 v55.34 a6.60,1.56 0 0 0 13.20,0 v-55.34 z" fill="url(#pg)"/>
<ellipse cx="752.82" cy="309.08" rx="6.90" ry="3.90" fill="#04b4ff"/>
<path d="M773.98,309.08 v55.34 a6.60,1.56 0 0 0 13.20,0 v-55.34 z" fill="url(#pg)"/>
<ellipse cx="780.58" cy="309.08" rx="6.90" ry="3.90" fill="#04b4ff"/>
<path d="M801.74,309.08 v55.34 a6.60,1.56 0 0 0 13.20,0 v-55.34 z" fill="url(#pg)"/>
<ellipse cx="808.34" cy="309.08" rx="6.90" ry="3.90" fill="#04b4ff"/>
<path d="M829.50,309.08 v55.34 a6.60,1.56 0 0 0 13.20,0 v-55.34 z" fill="url(#pg)"/>
<ellipse cx="836.10" cy="309.08" rx="6.90" ry="3.90" fill="#04b4ff"/>
<path d="M704.58,317.40 v55.34 a6.60,1.56 0 0 0 13.20,0 v-55.34 z" fill="url(#pg)"/>
<ellipse cx="711.18" cy="317.40" rx="6.90" ry="3.90" fill="#04b4ff"/>
<path d="M732.34,317.40 v55.34 a6.60,1.56 0 0 0 13.20,0 v-55.34 z" fill="url(#pg)"/>
<ellipse cx="738.94" cy="317.40" rx="6.90" ry="3.90" fill="#04b4ff"/>
<path d="M760.10,317.40 v55.34 a6.60,1.56 0 0 0 13.20,0 v-55.34 z" fill="url(#pg)"/>
<ellipse cx="766.70" cy="317.40" rx="6.90" ry="3.90" fill="#04b4ff"/>
<path d="M787.86,317.40 v55.34 a6.60,1.56 0 0 0 13.20,0 v-55.34 z" fill="url(#pg)"/>
<ellipse cx="794.46" cy="317.40" rx="6.90" ry="3.90" fill="#04b4ff"/>
<path d="M815.62,317.40 v55.34 a6.60,1.56 0 0 0 13.20,0 v-55.34 z" fill="url(#pg)"/>
<ellipse cx="822.22" cy="317.40" rx="6.90" ry="3.90" fill="#04b4ff"/>
<path d="M718.46,325.72 v55.34 a6.60,1.56 0 0 0 13.20,0 v-55.34 z" fill="url(#pg)"/>
<ellipse cx="725.06" cy="325.72" rx="6.90" ry="3.90" fill="#04b4ff"/>
<path d="M746.22,325.72 v55.34 a6.60,1.56 0 0 0 13.20,0 v-55.34 z" fill="url(#pg)"/>
<ellipse cx="752.82" cy="325.72" rx="6.90" ry="3.90" fill="#04b4ff"/>
<path d="M773.98,325.72 v55.34 a6.60,1.56 0 0 0 13.20,0 v-55.34 z" fill="url(#pg)"/>
<ellipse cx="780.58" cy="325.72" rx="6.90" ry="3.90" fill="#04b4ff"/>
<path d="M801.74,325.72 v55.34 a6.60,1.56 0 0 0 13.20,0 v-55.34 z" fill="url(#pg)"/>
<ellipse cx="808.34" cy="325.72" rx="6.90" ry="3.90" fill="#04b4ff"/>
<path d="M732.34,334.04 v55.34 a6.60,1.56 0 0 0 13.20,0 v-55.34 z" fill="url(#pg)"/>
<ellipse cx="738.94" cy="334.04" rx="6.90" ry="3.90" fill="#04b4ff"/>
<path d="M760.10,334.04 v55.34 a6.60,1.56 0 0 0 13.20,0 v-55.34 z" fill="url(#pg)"/>
<ellipse cx="766.70" cy="334.04" rx="6.90" ry="3.90" fill="#04b4ff"/>
<path d="M787.86,334.04 v55.34 a6.60,1.56 0 0 0 13.20,0 v-55.34 z" fill="url(#pg)"/>
<ellipse cx="794.46" cy="334.04" rx="6.90" ry="3.90" fill="#04b4ff"/>
<path d="M746.22,342.36 v55.34 a6.60,1.56 0 0 0 13.20,0 v-55.34 z" fill="url(#pg)"/>
<ellipse cx="752.82" cy="342.36" rx="6.90" ry="3.90" fill="#04b4ff"/>
<path d="M773.98,342.36 v55.34 a6.60,1.56 0 0 0 13.20,0 v-55.34 z" fill="url(#pg)"/>
<ellipse cx="780.58" cy="342.36" rx="6.90" ry="3.90" fill="#04b4ff"/>
<path d="M760.10,350.68 v55.34 a6.60,1.56 0 0 0 13.20,0 v-55.34 z" fill="url(#pg)"/>
<ellipse cx="766.70" cy="350.68" rx="6.90" ry="3.90" fill="#04b4ff"/>
<g fill="none" stroke="#000" stroke-width="7.5" stroke-linejoin="miter">
<polygon points="766.30,149.80 925.90,248.20 766.30,346.60 606.70,248.20" fill="none" />
<line x1="686.50" y1="199.00" x2="846.10" y2="297.40"/>
<line x1="846.10" y1="199.00" x2="686.50" y2="297.40"/>
</g>
<line x1="846" y1="199" x2="934" y2="199" stroke="#ff0000" stroke-width="3.4"/>
<polyline points="980,200.2 1025.2,200.2 1025.2,408.6 880.5,409.8" fill="none" stroke="#000" stroke-width="3.7"/>
<ellipse cx="956.6" cy="200.7" rx="24" ry="26.3" fill="#fff" stroke="#3d3713" stroke-width="3"/>
<text transform="translate(956.8,210.7) scale(0.93,1)" font-size="36" font-weight="bold" text-anchor="middle">A</text>
<path d="M905.2,175.9 h19.8 M915.1,165.6 v20.6" stroke="#ff1a1a" stroke-width="2.9" fill="none"/>
<rect x="992" y="173.5" width="10" height="3.6" fill="#111"/>
<path d="M1390,103 V26.3 H1174 V497.5 H1390 V460" fill="none" stroke="#000" stroke-width="7" stroke-linejoin="miter"/>
<ellipse cx="1174" cy="259.5" rx="58" ry="50.4" fill="#fff" stroke="#453c10" stroke-width="5"/>
<text transform="translate(1173.6,285.3) scale(1.07,1)" font-size="74" font-weight="bold" text-anchor="middle">A</text>
<path d="M1188,167.7 h50 M1212.8,146 v43.8" stroke="#ff0a0a" stroke-width="6.2" fill="none"/>
<rect x="1198.8" y="343.8" width="26.4" height="7.4" fill="#000"/>
<rect x="1312.80" y="136" width="28.4" height="185" fill="#ff0000"/>
<rect x="1318.60" y="136" width="16.8" height="185" fill="#00aeef"/>
<rect x="1368.20" y="136" width="28.4" height="185" fill="#ff0000"/>
<rect x="1374.00" y="136" width="16.8" height="185" fill="#00aeef"/>
<rect x="1423.60" y="136" width="28.4" height="185" fill="#ff0000"/>
<rect x="1429.40" y="136" width="16.8" height="185" fill="#00aeef"/>
<rect x="1479.00" y="136" width="28.4" height="185" fill="#ff0000"/>
<rect x="1484.80" y="136" width="16.8" height="185" fill="#00aeef"/>
<rect x="1534.40" y="136" width="28.4" height="185" fill="#ff0000"/>
<rect x="1540.20" y="136" width="16.8" height="185" fill="#00aeef"/>
<rect x="1589.80" y="136" width="28.4" height="185" fill="#ff0000"/>
<rect x="1595.60" y="136" width="16.8" height="185" fill="#00aeef"/>
<rect x="1645.20" y="136" width="28.4" height="185" fill="#ff0000"/>
<rect x="1651.00" y="136" width="16.8" height="185" fill="#00aeef"/>
<rect x="1700.60" y="136" width="28.4" height="185" fill="#ff0000"/>
<rect x="1706.40" y="136" width="16.8" height="185" fill="#00aeef"/>
<rect x="1301" y="102" width="438.5" height="35" rx="2" fill="#050505"/>
<rect x="1301" y="320" width="438.5" height="88" fill="#00bfff"/>
<rect x="1301" y="407" width="438.5" height="11" fill="#cbcbcb"/>
<rect x="1301" y="417.5" width="438.5" height="43.5" fill="#c9a28b"/>
<line x1="1170" y1="550" x2="1254" y2="550" stroke="#ff1a1a" stroke-width="4"/>
<text x="1272" y="564.5" font-size="45.5" textLength="468" lengthAdjust="spacingAndGlyphs" fill="#111">Electrical double layer</text>
<path d="M182.00,819.40 C195.33,819.88 238.00,821.47 262.00,822.30 C286.00,823.13 311.00,823.52 326.00,824.40 C341.00,825.28 333.00,826.80 352.00,827.60 C371.00,828.40 411.00,828.98 440.00,829.20 C469.00,829.42 497.00,828.83 526.00,828.90 C555.00,828.97 584.83,829.48 614.00,829.60 C643.17,829.72 672.50,829.43 701.00,829.60 C729.50,829.77 757.08,830.30 785.00,830.60 C812.92,830.90 854.58,831.27 868.50,831.40" fill="none" stroke="#d29e0e" stroke-width="3.4" stroke-linecap="butt"/>
<path d="M182.00,777.30 C195.33,778.30 233.67,781.38 262.00,783.30 C290.33,785.22 322.33,787.30 352.00,788.80 C381.67,790.30 411.00,791.13 440.00,792.30 C469.00,793.47 497.00,794.63 526.00,795.80 C555.00,796.97 584.83,798.13 614.00,799.30 C643.17,800.47 672.50,801.68 701.00,802.80 C729.50,803.92 757.08,805.00 785.00,806.00 C812.92,807.00 854.58,808.33 868.50,808.80" fill="none" stroke="#b266e8" stroke-width="3.4" stroke-linecap="butt"/>
<path d="M182.00,773.80 C195.33,774.22 233.67,775.55 262.00,776.30 C290.33,777.05 322.33,777.65 352.00,778.30 C381.67,778.95 411.00,779.53 440.00,780.20 C469.00,780.87 497.00,781.40 526.00,782.30 C555.00,783.20 584.83,784.43 614.00,785.60 C643.17,786.77 672.50,788.43 701.00,789.30 C729.50,790.17 757.08,790.30 785.00,790.80 C812.92,791.30 854.58,792.05 868.50,792.30" fill="none" stroke="#1fa457" stroke-width="3.4" stroke-linecap="butt"/>
<path d="M182.00,755.30 C195.33,755.75 233.67,757.08 262.00,758.00 C290.33,758.92 322.33,759.88 352.00,760.80 C381.67,761.72 411.00,762.67 440.00,763.50 C469.00,764.33 497.00,765.18 526.00,765.80 C555.00,766.42 584.83,766.70 614.00,767.20 C643.17,767.70 672.50,768.23 701.00,768.80 C729.50,769.37 757.08,770.02 785.00,770.60 C812.92,771.18 854.58,772.02 868.50,772.30" fill="none" stroke="#1464e4" stroke-width="3.4" stroke-linecap="butt"/>
<path d="M182.00,717.70 C195.33,718.50 233.67,720.83 262.00,722.50 C290.33,724.17 322.33,726.20 352.00,727.70 C381.67,729.20 411.00,730.25 440.00,731.50 C469.00,732.75 497.00,733.95 526.00,735.20 C555.00,736.45 584.83,737.75 614.00,739.00 C643.17,740.25 672.50,741.53 701.00,742.70 C729.50,743.87 757.08,745.00 785.00,746.00 C812.92,747.00 854.58,748.25 868.50,748.70" fill="none" stroke="#f8353c" stroke-width="3.4" stroke-linecap="butt"/>
<path d="M182.00,706.20 C188.67,706.75 208.67,708.37 222.00,709.50 C235.33,710.63 247.33,712.00 262.00,713.00 C276.67,714.00 295.00,714.62 310.00,715.50 C325.00,716.38 330.33,717.38 352.00,718.30 C373.67,719.22 411.00,720.08 440.00,721.00 C469.00,721.92 497.00,722.83 526.00,723.80 C555.00,724.77 584.83,725.80 614.00,726.80 C643.17,727.80 672.50,728.90 701.00,729.80 C729.50,730.70 757.08,731.45 785.00,732.20 C812.92,732.95 854.58,733.95 868.50,734.30" fill="none" stroke="#000000" stroke-width="3.4" stroke-linecap="butt"/>
<g clip-path="url(#pc)">
<rect x="259.6" y="864.4" width="328.8" height="265.8" fill="url(#pbg)"/>
<g filter="url(#bl)">
<path d="M258,998.5 L300,1001.5 L326,1000.5" stroke="#8f867a" stroke-width="1.1" fill="none"/>
<path d="M532,996 L543,991" stroke="#8f867a" stroke-width="1.1" fill="none"/>
<rect x="325.3" y="915.4" width="211.6" height="219.6" fill="#929a4c" />
<rect x="325.3" y="915.4" width="9.9" height="180.6" fill="#8e9a48" />
<rect x="325.3" y="1096.0" width="9.2" height="39.0" fill="#c99c84" />
<rect x="326.5" y="955.0" width="8.0" height="8.0" fill="#dcb09a" />
<rect x="326.5" y="1045.5" width="8.0" height="8.0" fill="#dcae98" />
<rect x="335.2" y="915.4" width="42.3" height="180.6" fill="url(#ptl)" />
<rect x="335.2" y="1045.0" width="32.8" height="8.5" fill="#8fa058" />
<rect x="367.0" y="915.4" width="113.0" height="27.6" fill="#5fa45c" />
<rect x="377.0" y="917.0" width="96.5" height="17.5" fill="#a6a65c" />
<rect x="377.0" y="934.5" width="103.0" height="7.0" fill="#6fb56c" />
<rect x="479.4" y="909.5" width="50.1" height="40.5" fill="#86bb82" />
<rect x="479.4" y="909.5" width="50.1" height="4.5" fill="#5fa962" />
<path d="M482,922 L498,938 L508,944 M500,930 L512,936 M520,938 L524,946" stroke="#e8f4ea" stroke-width="3" fill="none" stroke-linecap="round"/>
<rect x="521.0" y="947.0" width="10.0" height="9.0" fill="#f2ecd8" />
<rect x="498.0" y="953.0" width="18.0" height="7.0" fill="#dfeee6" />
<rect x="489.0" y="950.0" width="37.5" height="88.0" fill="url(#ptr)" />
<rect x="523.5" y="956.0" width="9.5" height="78.6" fill="#a4a052" />
<rect x="526.0" y="1034.6" width="10.9" height="13.9" fill="#d6a88e" />
<rect x="492.0" y="1038.0" width="34.5" height="11.0" fill="#a2aa5c" />
<rect x="484.4" y="1049.0" width="44.6" height="44.0" fill="#4c964a" />
<rect x="484.4" y="1049.0" width="12.6" height="44.0" fill="#409850" />
<rect x="526.0" y="1048.5" width="10.9" height="44.5" fill="#94984c" />
<rect x="529.0" y="1093.0" width="7.9" height="42.0" fill="#d3a58c" />
<rect x="377.5" y="1061.0" width="106.9" height="12.5" fill="#78bc7c" />
<rect x="377.8" y="1073.5" width="106.6" height="21.5" fill="#989f56" />
<rect x="377.8" y="1095.0" width="106.6" height="40.0" fill="url(#pcu)" />
<rect x="334.5" y="1096.0" width="43.3" height="39.0" fill="#8f954e" />
<rect x="484.4" y="1093.0" width="44.6" height="42.0" fill="#9a9a50" />
<rect x="367.9" y="941.2" width="121.4" height="120.2" fill="#2f7a42" />
<rect x="375.8" y="948.1" width="107.6" height="103.4" fill="#4e5250" />
</g><g filter="url(#bl2)">
<rect x="388.5" y="961.5" width="34.0" height="30.5" fill="#87742a" rx="3"/>
<rect x="437.5" y="958.5" width="30.5" height="33.5" fill="#8a762c" rx="3"/>
<rect x="390.5" y="1006.5" width="33.5" height="31.5" fill="#857228" rx="3"/>
<rect x="438.5" y="1003.5" width="31.5" height="32.5" fill="#685820" rx="3"/>
</g></g>
<rect x="182" y="631.5" width="686.5" height="530.5" fill="none" stroke="#1f1f1f" stroke-width="3"/>
<line x1="182" y1="1055.90" x2="192" y2="1055.90" stroke="#1f1f1f" stroke-width="3"/>
<line x1="182" y1="949.80" x2="192" y2="949.80" stroke="#1f1f1f" stroke-width="3"/>
<line x1="182" y1="843.70" x2="192" y2="843.70" stroke="#1f1f1f" stroke-width="3"/>
<line x1="182" y1="737.60" x2="192" y2="737.60" stroke="#1f1f1f" stroke-width="3"/>
<line x1="353.62" y1="1162" x2="353.62" y2="1152" stroke="#1f1f1f" stroke-width="3"/>
<line x1="525.25" y1="1162" x2="525.25" y2="1152" stroke="#1f1f1f" stroke-width="3"/>
<line x1="696.88" y1="1162" x2="696.88" y2="1152" stroke="#1f1f1f" stroke-width="3"/>
<text x="169.00" y="1172.80" font-size="32" font-weight="bold" text-anchor="end" fill="#000" >0.2</text>
<text x="169.00" y="1066.70" font-size="32" font-weight="bold" text-anchor="end" fill="#000" >0.3</text>
<text x="169.00" y="960.60" font-size="32" font-weight="bold" text-anchor="end" fill="#000" >0.4</text>
<text x="169.00" y="854.50" font-size="32" font-weight="bold" text-anchor="end" fill="#000" >0.5</text>
<text x="169.00" y="748.40" font-size="32" font-weight="bold" text-anchor="end" fill="#000" >0.6</text>
<text x="169.00" y="642.30" font-size="32" font-weight="bold" text-anchor="end" fill="#000" >0.7</text>
<text x="183.30" y="1207.30" font-size="32" font-weight="bold" text-anchor="middle" fill="#000" >0</text>
<text x="349.23" y="1207.30" font-size="32" font-weight="bold" text-anchor="middle" fill="#000" >100</text>
<text x="523.95" y="1207.30" font-size="32" font-weight="bold" text-anchor="middle" fill="#000" >200</text>
<text x="696.88" y="1207.30" font-size="32" font-weight="bold" text-anchor="middle" fill="#000" >300</text>
<text x="863.00" y="1207.30" font-size="32" font-weight="bold" text-anchor="middle" fill="#000" >400</text>
<text transform="translate(110.40,896.80) rotate(-90) scale(1.04,1)" font-size="36" font-weight="bold" text-anchor="middle" fill="#000" >Voltage (V)</text>
<text x="538.00" y="1246.00" font-size="36" font-weight="bold" text-anchor="middle" fill="#000" >Time (s)</text>
<rect x="688.6" y="872" width="146.8" height="238.8" fill="#fff" stroke="#b4b4b4" stroke-width="1.5"/>
<line x1="692.6" y1="894.5" x2="765" y2="894.5" stroke="#000000" stroke-width="3.6" stroke-linecap="round"/>
<text x="772.50" y="905.00" font-size="31" font-weight="normal" text-anchor="start" fill="#111" >20s</text>
<line x1="692.6" y1="933.2" x2="765" y2="933.2" stroke="#f8353c" stroke-width="3.6" stroke-linecap="round"/>
<text x="772.50" y="943.70" font-size="31" font-weight="normal" text-anchor="start" fill="#111" >60s</text>
<line x1="692.6" y1="972" x2="765" y2="972" stroke="#1464e4" stroke-width="3.6" stroke-linecap="round"/>
<text x="772.50" y="982.50" font-size="31" font-weight="normal" text-anchor="start" fill="#111" >100s</text>
<line x1="692.6" y1="1011.5" x2="765" y2="1011.5" stroke="#1fa457" stroke-width="3.6" stroke-linecap="round"/>
<text x="772.50" y="1022.00" font-size="31" font-weight="normal" text-anchor="start" fill="#111" >140s</text>
<line x1="692.6" y1="1050.2" x2="765" y2="1050.2" stroke="#b266e8" stroke-width="3.6" stroke-linecap="round"/>
<text x="772.50" y="1060.70" font-size="31" font-weight="normal" text-anchor="start" fill="#111" >180s</text>
<line x1="692.6" y1="1089" x2="765" y2="1089" stroke="#d29e0e" stroke-width="3.6" stroke-linecap="round"/>
<text x="772.50" y="1099.50" font-size="31" font-weight="normal" text-anchor="start" fill="#111" >220s</text>
<path d="M1100.32,792.32 C1107.33,793.99 1127.86,799.33 1142.39,802.33 C1156.91,805.34 1174.11,808.01 1187.46,810.35 C1200.82,812.68 1210.83,814.69 1222.52,816.36 C1234.21,818.03 1244.22,819.03 1257.58,820.36 C1270.93,821.70 1287.63,822.78 1302.65,824.37 C1317.68,825.96 1333.12,828.04 1347.73,829.88 C1362.33,831.72 1376.11,833.64 1390.30,835.39 C1404.49,837.14 1418.26,838.89 1432.87,840.40 C1447.48,841.90 1463.33,842.98 1477.94,844.40 C1492.55,845.82 1506.32,847.66 1520.51,848.91 C1534.70,850.16 1548.48,850.91 1563.08,851.92 C1577.69,852.92 1593.13,853.92 1608.16,854.92 C1623.18,855.92 1638.21,856.92 1653.23,857.93 C1668.26,858.93 1683.28,859.85 1698.31,860.93 C1713.33,862.02 1728.10,863.27 1743.38,864.44 C1758.66,865.60 1782.19,867.36 1789.96,867.94" fill="none" stroke="#d29e0e" stroke-width="3.0" stroke-linecap="butt"/>
<path d="M1100.32,777.79 C1107.33,779.55 1127.86,784.97 1142.39,788.31 C1156.91,791.65 1174.11,795.49 1187.46,797.83 C1200.82,800.16 1210.83,801.00 1222.52,802.33 C1234.21,803.67 1244.22,804.17 1257.58,805.84 C1270.93,807.51 1287.63,810.26 1302.65,812.35 C1317.68,814.44 1333.12,816.61 1347.73,818.36 C1362.33,820.11 1376.11,821.37 1390.30,822.87 C1404.49,824.37 1418.26,825.87 1432.87,827.38 C1447.48,828.88 1463.33,830.55 1477.94,831.88 C1492.55,833.22 1506.32,834.22 1520.51,835.39 C1534.70,836.56 1548.48,837.73 1563.08,838.89 C1577.69,840.06 1593.13,841.40 1608.16,842.40 C1623.18,843.40 1638.21,844.07 1653.23,844.90 C1668.26,845.74 1683.28,846.57 1698.31,847.41 C1713.33,848.24 1730.86,849.33 1743.38,849.91 C1755.90,850.50 1765.67,850.91 1773.43,850.91 C1781.19,850.91 1787.20,850.08 1789.96,849.91" fill="none" stroke="#1fa457" stroke-width="3.0" stroke-linecap="butt"/>
<path d="M1100.32,769.28 C1107.33,771.37 1127.86,777.88 1142.39,781.80 C1156.91,785.72 1174.11,790.06 1187.46,792.82 C1200.82,795.57 1210.83,796.66 1222.52,798.33 C1234.21,800.00 1244.22,801.08 1257.58,802.83 C1270.93,804.59 1287.63,806.59 1302.65,808.84 C1317.68,811.10 1333.12,814.35 1347.73,816.36 C1362.33,818.36 1376.11,819.36 1390.30,820.86 C1404.49,822.37 1418.26,823.79 1432.87,825.37 C1447.48,826.96 1463.33,828.88 1477.94,830.38 C1492.55,831.88 1506.32,833.13 1520.51,834.39 C1534.70,835.64 1548.48,836.64 1563.08,837.89 C1577.69,839.14 1593.13,840.65 1608.16,841.90 C1623.18,843.15 1638.21,844.32 1653.23,845.40 C1668.26,846.49 1683.28,847.41 1698.31,848.41 C1713.33,849.41 1728.10,850.50 1743.38,851.41 C1758.66,852.33 1782.19,853.50 1789.96,853.92" fill="none" stroke="#b266e8" stroke-width="3.0" stroke-linecap="butt"/>
<path d="M1100.32,723.20 C1107.33,725.04 1127.86,730.72 1142.39,734.22 C1156.91,737.73 1174.11,741.73 1187.46,744.24 C1200.82,746.74 1210.83,747.83 1222.52,749.25 C1234.21,750.67 1244.22,751.08 1257.58,752.75 C1270.93,754.42 1287.63,757.09 1302.65,759.26 C1317.68,761.43 1333.12,763.94 1347.73,765.77 C1362.33,767.61 1376.11,768.78 1390.30,770.28 C1404.49,771.78 1418.26,773.37 1432.87,774.79 C1447.48,776.21 1463.33,777.46 1477.94,778.80 C1492.55,780.13 1506.32,781.38 1520.51,782.80 C1534.70,784.22 1548.48,785.97 1563.08,787.31 C1577.69,788.64 1593.13,789.73 1608.16,790.81 C1623.18,791.90 1638.21,792.73 1653.23,793.82 C1668.26,794.90 1683.28,796.16 1698.31,797.33 C1713.33,798.49 1728.10,799.83 1743.38,800.83 C1758.66,801.83 1782.19,802.92 1789.96,803.34" fill="none" stroke="#3a3a3a" stroke-width="3.0" stroke-linecap="butt"/>
<path d="M1100.32,706.18 C1107.33,707.84 1127.86,713.02 1142.39,716.19 C1156.91,719.36 1174.11,722.87 1187.46,725.21 C1200.82,727.54 1210.83,728.80 1222.52,730.21 C1234.21,731.63 1244.22,732.47 1257.58,733.72 C1270.93,734.97 1287.63,736.22 1302.65,737.73 C1317.68,739.23 1333.12,741.15 1347.73,742.74 C1362.33,744.32 1376.11,745.74 1390.30,747.24 C1404.49,748.75 1418.26,750.41 1432.87,751.75 C1447.48,753.09 1463.33,754.17 1477.94,755.26 C1492.55,756.34 1506.32,757.26 1520.51,758.26 C1534.70,759.26 1548.48,760.18 1563.08,761.27 C1577.69,762.35 1593.13,763.60 1608.16,764.77 C1623.18,765.94 1638.21,767.11 1653.23,768.28 C1668.26,769.45 1683.28,770.61 1698.31,771.78 C1713.33,772.95 1728.10,774.29 1743.38,775.29 C1758.66,776.29 1782.19,777.38 1789.96,777.79" fill="none" stroke="#1464e4" stroke-width="3.0" stroke-linecap="butt"/>
<path d="M1100.32,678.63 C1107.33,680.22 1127.86,685.14 1142.39,688.15 C1156.91,691.15 1174.11,694.24 1187.46,696.66 C1200.82,699.08 1210.83,700.83 1222.52,702.67 C1234.21,704.51 1244.22,705.84 1257.58,707.68 C1270.93,709.51 1287.63,711.60 1302.65,713.69 C1317.68,715.77 1333.12,718.20 1347.73,720.20 C1362.33,722.20 1376.11,723.87 1390.30,725.71 C1404.49,727.54 1418.26,729.46 1432.87,731.22 C1447.48,732.97 1463.33,734.64 1477.94,736.22 C1492.55,737.81 1506.32,739.23 1520.51,740.73 C1534.70,742.23 1548.48,743.90 1563.08,745.24 C1577.69,746.58 1593.13,747.49 1608.16,748.75 C1623.18,750.00 1638.21,751.42 1653.23,752.75 C1668.26,754.09 1683.28,755.34 1698.31,756.76 C1713.33,758.18 1728.10,759.85 1743.38,761.27 C1758.66,762.69 1782.19,764.60 1789.96,765.27" fill="none" stroke="#f8353c" stroke-width="3.0" stroke-linecap="butt"/>
<rect x="1100.5" y="630.6" width="690.0999999999999" height="538.6999999999999" fill="none" stroke="#1f1f1f" stroke-width="3"/>
<line x1="1100.5" y1="1034.62" x2="1110.5" y2="1034.62" stroke="#1f1f1f" stroke-width="3"/>
<line x1="1100.5" y1="899.95" x2="1110.5" y2="899.95" stroke="#1f1f1f" stroke-width="3"/>
<line x1="1100.5" y1="765.27" x2="1110.5" y2="765.27" stroke="#1f1f1f" stroke-width="3"/>
<line x1="1100.5" y1="1101.96" x2="1106.5" y2="1101.96" stroke="#1f1f1f" stroke-width="3"/>
<line x1="1100.5" y1="967.29" x2="1106.5" y2="967.29" stroke="#1f1f1f" stroke-width="3"/>
<line x1="1100.5" y1="832.61" x2="1106.5" y2="832.61" stroke="#1f1f1f" stroke-width="3"/>
<line x1="1100.5" y1="697.94" x2="1106.5" y2="697.94" stroke="#1f1f1f" stroke-width="3"/>
<line x1="1273.03" y1="1169.3" x2="1273.03" y2="1159.3" stroke="#1f1f1f" stroke-width="3"/>
<line x1="1445.55" y1="1169.3" x2="1445.55" y2="1159.3" stroke="#1f1f1f" stroke-width="3"/>
<line x1="1618.07" y1="1169.3" x2="1618.07" y2="1159.3" stroke="#1f1f1f" stroke-width="3"/>
<line x1="1186.76" y1="1169.3" x2="1186.76" y2="1163.3" stroke="#1f1f1f" stroke-width="3"/>
<line x1="1359.29" y1="1169.3" x2="1359.29" y2="1163.3" stroke="#1f1f1f" stroke-width="3"/>
<line x1="1531.81" y1="1169.3" x2="1531.81" y2="1163.3" stroke="#1f1f1f" stroke-width="3"/>
<line x1="1704.34" y1="1169.3" x2="1704.34" y2="1163.3" stroke="#1f1f1f" stroke-width="3"/>
<text x="1088.50" y="1178.90" font-size="31.5" font-weight="bold" text-anchor="end" fill="#000" >0</text>
<text x="1088.50" y="1044.22" font-size="31.5" font-weight="bold" text-anchor="end" fill="#000" >10</text>
<text x="1088.50" y="909.55" font-size="31.5" font-weight="bold" text-anchor="end" fill="#000" >20</text>
<text x="1088.50" y="774.88" font-size="31.5" font-weight="bold" text-anchor="end" fill="#000" >30</text>
<text x="1088.50" y="640.20" font-size="31.5" font-weight="bold" text-anchor="end" fill="#000" >40</text>
<text x="1099.00" y="1207.00" font-size="31.5" font-weight="bold" text-anchor="middle" fill="#000" >0</text>
<text x="1273.03" y="1207.00" font-size="31.5" font-weight="bold" text-anchor="middle" fill="#000" >100</text>
<text x="1445.55" y="1207.00" font-size="31.5" font-weight="bold" text-anchor="middle" fill="#000" >200</text>
<text x="1618.07" y="1207.00" font-size="31.5" font-weight="bold" text-anchor="middle" fill="#000" >300</text>
<text x="1790.60" y="1207.00" font-size="31.5" font-weight="bold" text-anchor="middle" fill="#000" >400</text>
<text transform="translate(1043.80,900.00) rotate(-90) scale(1.0,1)" font-size="36" font-weight="bold" text-anchor="middle" fill="#000" >Current density (μA/cm<tspan font-size="22" dy="-14">2</tspan><tspan dy="14">)</tspan></text>
<text x="1445.00" y="1247.20" font-size="36" font-weight="bold" text-anchor="middle" fill="#000" >Time (s)</text>
<rect x="1608.2" y="901.5" width="146.7" height="231.4" fill="#fff" stroke="#b4b4b4" stroke-width="1.5"/>
<line x1="1612" y1="923" x2="1684.3" y2="923" stroke="#3a3a3a" stroke-width="3.1" stroke-linecap="round"/>
<text x="1692.30" y="933.50" font-size="31" font-weight="normal" text-anchor="start" fill="#111" >20s</text>
<line x1="1612" y1="960.6" x2="1684.3" y2="960.6" stroke="#f8353c" stroke-width="3.1" stroke-linecap="round"/>
<text x="1692.30" y="971.10" font-size="31" font-weight="normal" text-anchor="start" fill="#111" >60s</text>
<line x1="1612" y1="999.2" x2="1684.3" y2="999.2" stroke="#1464e4" stroke-width="3.1" stroke-linecap="round"/>
<text x="1692.30" y="1009.70" font-size="31" font-weight="normal" text-anchor="start" fill="#111" >100s</text>
<line x1="1612" y1="1036.7" x2="1684.3" y2="1036.7" stroke="#1fa457" stroke-width="3.1" stroke-linecap="round"/>
<text x="1692.30" y="1047.20" font-size="31" font-weight="normal" text-anchor="start" fill="#111" >140s</text>
<line x1="1612" y1="1074.3" x2="1684.3" y2="1074.3" stroke="#b266e8" stroke-width="3.1" stroke-linecap="round"/>
<text x="1692.30" y="1084.80" font-size="31" font-weight="normal" text-anchor="start" fill="#111" >180s</text>
<line x1="1612" y1="1111.8" x2="1684.3" y2="1111.8" stroke="#d29e0e" stroke-width="3.1" stroke-linecap="round"/>
<text x="1692.30" y="1122.30" font-size="31" font-weight="normal" text-anchor="start" fill="#111" >220s</text>
<polyline points="248.9,1417.8 362.1,1435.3 475.8,1465.3 589.5,1491.9 702.7,1513.4 816.3,1543" fill="none" stroke="#ff0000" stroke-width="4.4" stroke-linejoin="round"/>
<rect x="241.4" y="1410.3" width="15" height="15" fill="#000"/>
<rect x="354.6" y="1427.8" width="15" height="15" fill="#000"/>
<rect x="468.3" y="1457.8" width="15" height="15" fill="#000"/>
<rect x="582.0" y="1484.4" width="15" height="15" fill="#000"/>
<rect x="695.2" y="1505.9" width="15" height="15" fill="#000"/>
<rect x="808.8" y="1535.5" width="15" height="15" fill="#000"/>
<rect x="191.8" y="1283.8" width="682.2" height="549.6000000000001" fill="none" stroke="#1f1f1f" stroke-width="3"/>
<line x1="191.8" y1="1696.00" x2="201.8" y2="1696.00" stroke="#1f1f1f" stroke-width="3"/>
<line x1="191.8" y1="1558.60" x2="201.8" y2="1558.60" stroke="#1f1f1f" stroke-width="3"/>
<line x1="191.8" y1="1421.20" x2="201.8" y2="1421.20" stroke="#1f1f1f" stroke-width="3"/>
<line x1="191.8" y1="1764.70" x2="197.8" y2="1764.70" stroke="#1f1f1f" stroke-width="3"/>
<line x1="191.8" y1="1627.30" x2="197.8" y2="1627.30" stroke="#1f1f1f" stroke-width="3"/>
<line x1="191.8" y1="1489.90" x2="197.8" y2="1489.90" stroke="#1f1f1f" stroke-width="3"/>
<line x1="191.8" y1="1352.50" x2="197.8" y2="1352.50" stroke="#1f1f1f" stroke-width="3"/>
<line x1="305.50" y1="1833.4" x2="305.50" y2="1823.4" stroke="#1f1f1f" stroke-width="3"/>
<line x1="419.20" y1="1833.4" x2="419.20" y2="1823.4" stroke="#1f1f1f" stroke-width="3"/>
<line x1="532.90" y1="1833.4" x2="532.90" y2="1823.4" stroke="#1f1f1f" stroke-width="3"/>
<line x1="646.60" y1="1833.4" x2="646.60" y2="1823.4" stroke="#1f1f1f" stroke-width="3"/>
<line x1="760.30" y1="1833.4" x2="760.30" y2="1823.4" stroke="#1f1f1f" stroke-width="3"/>
<line x1="248.65" y1="1833.4" x2="248.65" y2="1827.4" stroke="#1f1f1f" stroke-width="3"/>
<line x1="362.35" y1="1833.4" x2="362.35" y2="1827.4" stroke="#1f1f1f" stroke-width="3"/>
<line x1="476.05" y1="1833.4" x2="476.05" y2="1827.4" stroke="#1f1f1f" stroke-width="3"/>
<line x1="589.75" y1="1833.4" x2="589.75" y2="1827.4" stroke="#1f1f1f" stroke-width="3"/>
<line x1="703.45" y1="1833.4" x2="703.45" y2="1827.4" stroke="#1f1f1f" stroke-width="3"/>
<line x1="817.15" y1="1833.4" x2="817.15" y2="1827.4" stroke="#1f1f1f" stroke-width="3"/>
<text x="180.00" y="1843.40" font-size="31.5" font-weight="bold" text-anchor="end" fill="#000" >0.3</text>
<text x="180.00" y="1706.00" font-size="31.5" font-weight="bold" text-anchor="end" fill="#000" >0.4</text>
<text x="180.00" y="1568.60" font-size="31.5" font-weight="bold" text-anchor="end" fill="#000" >0.5</text>
<text x="180.00" y="1431.20" font-size="31.5" font-weight="bold" text-anchor="end" fill="#000" >0.6</text>
<text x="180.00" y="1293.80" font-size="31.5" font-weight="bold" text-anchor="end" fill="#000" >0.7</text>
<text x="191.80" y="1870.00" font-size="31.5" font-weight="bold" text-anchor="middle" fill="#000" >0</text>
<text x="305.50" y="1870.00" font-size="31.5" font-weight="bold" text-anchor="middle" fill="#000" >40</text>
<text x="419.20" y="1870.00" font-size="31.5" font-weight="bold" text-anchor="middle" fill="#000" >80</text>
<text x="532.90" y="1870.00" font-size="31.5" font-weight="bold" text-anchor="middle" fill="#000" >120</text>
<text x="646.60" y="1870.00" font-size="31.5" font-weight="bold" text-anchor="middle" fill="#000" >160</text>
<text x="760.30" y="1870.00" font-size="31.5" font-weight="bold" text-anchor="middle" fill="#000" >200</text>
<text x="874.00" y="1870.00" font-size="31.5" font-weight="bold" text-anchor="middle" fill="#000" >240</text>
<text transform="translate(121.60,1558.00) rotate(-90) scale(1.03,1)" font-size="36" font-weight="bold" text-anchor="middle" fill="#000" >Voltage (V)</text>
<text x="542.00" y="1923.60" text-anchor="middle" font-size="36" fill="#000"><tspan font-weight="bold" font-style="italic">t</tspan><tspan font-weight="bold" font-size="24.5" dy="9">seed</tspan><tspan dy="-9" font-size="37.5"> (s)</tspan></text>
<polyline points="1160.9,1463.8 1275.1,1401.7 1388.8,1421.8 1502,1542 1616.2,1546 1729.9,1568.5" fill="none" stroke="#ff0000" stroke-width="4.4" stroke-linejoin="round"/>
<polygon points="1149.9,1463.8 1160.9,1452.8 1171.9,1463.8 1160.9,1474.8" fill="#0000ff"/>
<polygon points="1264.1,1401.7 1275.1,1390.7 1286.1,1401.7 1275.1,1412.7" fill="#0000ff"/>
<polygon points="1377.8,1421.8 1388.8,1410.8 1399.8,1421.8 1388.8,1432.8" fill="#0000ff"/>
<polygon points="1491,1542 1502,1531 1513,1542 1502,1553" fill="#0000ff"/>
<polygon points="1605.2,1546 1616.2,1535 1627.2,1546 1616.2,1557" fill="#0000ff"/>
<polygon points="1718.9,1568.5 1729.9,1557.5 1740.9,1568.5 1729.9,1579.5" fill="#0000ff"/>
<rect x="1103.8" y="1291.6" width="683.2" height="550.4000000000001" fill="none" stroke="#1f1f1f" stroke-width="3"/>
<line x1="1103.8" y1="1731.92" x2="1113.8" y2="1731.92" stroke="#1f1f1f" stroke-width="3"/>
<line x1="1103.8" y1="1621.84" x2="1113.8" y2="1621.84" stroke="#1f1f1f" stroke-width="3"/>
<line x1="1103.8" y1="1511.76" x2="1113.8" y2="1511.76" stroke="#1f1f1f" stroke-width="3"/>
<line x1="1103.8" y1="1401.68" x2="1113.8" y2="1401.68" stroke="#1f1f1f" stroke-width="3"/>
<line x1="1103.8" y1="1786.96" x2="1109.8" y2="1786.96" stroke="#1f1f1f" stroke-width="3"/>
<line x1="1103.8" y1="1676.88" x2="1109.8" y2="1676.88" stroke="#1f1f1f" stroke-width="3"/>
<line x1="1103.8" y1="1566.80" x2="1109.8" y2="1566.80" stroke="#1f1f1f" stroke-width="3"/>
<line x1="1103.8" y1="1456.72" x2="1109.8" y2="1456.72" stroke="#1f1f1f" stroke-width="3"/>
<line x1="1103.8" y1="1346.64" x2="1109.8" y2="1346.64" stroke="#1f1f1f" stroke-width="3"/>
<line x1="1217.67" y1="1842" x2="1217.67" y2="1832" stroke="#1f1f1f" stroke-width="3"/>
<line x1="1331.53" y1="1842" x2="1331.53" y2="1832" stroke="#1f1f1f" stroke-width="3"/>
<line x1="1445.40" y1="1842" x2="1445.40" y2="1832" stroke="#1f1f1f" stroke-width="3"/>
<line x1="1559.27" y1="1842" x2="1559.27" y2="1832" stroke="#1f1f1f" stroke-width="3"/>
<line x1="1673.13" y1="1842" x2="1673.13" y2="1832" stroke="#1f1f1f" stroke-width="3"/>
<line x1="1160.73" y1="1842" x2="1160.73" y2="1836" stroke="#1f1f1f" stroke-width="3"/>
<line x1="1274.60" y1="1842" x2="1274.60" y2="1836" stroke="#1f1f1f" stroke-width="3"/>
<line x1="1388.47" y1="1842" x2="1388.47" y2="1836" stroke="#1f1f1f" stroke-width="3"/>
<line x1="1502.33" y1="1842" x2="1502.33" y2="1836" stroke="#1f1f1f" stroke-width="3"/>
<line x1="1616.20" y1="1842" x2="1616.20" y2="1836" stroke="#1f1f1f" stroke-width="3"/>
<line x1="1730.07" y1="1842" x2="1730.07" y2="1836" stroke="#1f1f1f" stroke-width="3"/>
<text x="1092.00" y="1851.00" font-size="31.5" font-weight="bold" text-anchor="end" fill="#000" >10</text>
<text x="1092.00" y="1740.92" font-size="31.5" font-weight="bold" text-anchor="end" fill="#000" >15</text>
<text x="1092.00" y="1630.84" font-size="31.5" font-weight="bold" text-anchor="end" fill="#000" >20</text>
<text x="1092.00" y="1520.76" font-size="31.5" font-weight="bold" text-anchor="end" fill="#000" >25</text>
<text x="1092.00" y="1410.68" font-size="31.5" font-weight="bold" text-anchor="end" fill="#000" >30</text>
<text x="1092.00" y="1300.60" font-size="31.5" font-weight="bold" text-anchor="end" fill="#000" >35</text>
<text x="1103.80" y="1877.60" font-size="31.5" font-weight="bold" text-anchor="middle" fill="#000" >0</text>
<text x="1217.67" y="1877.60" font-size="31.5" font-weight="bold" text-anchor="middle" fill="#000" >40</text>
<text x="1331.53" y="1877.60" font-size="31.5" font-weight="bold" text-anchor="middle" fill="#000" >80</text>
<text x="1445.40" y="1877.60" font-size="31.5" font-weight="bold" text-anchor="middle" fill="#000" >120</text>
<text x="1559.27" y="1877.60" font-size="31.5" font-weight="bold" text-anchor="middle" fill="#000" >160</text>
<text x="1673.13" y="1877.60" font-size="31.5" font-weight="bold" text-anchor="middle" fill="#000" >200</text>
<text x="1787.00" y="1877.60" font-size="31.5" font-weight="bold" text-anchor="middle" fill="#000" >240</text>
<text transform="translate(1038.00,1565.50) rotate(-90) scale(1.0,1)" font-size="36" font-weight="bold" text-anchor="middle" fill="#000" >Current density (μA/cm<tspan font-size="22" dy="-14">2</tspan><tspan dy="14">)</tspan></text>
<text x="1476.00" y="1935.00" text-anchor="middle" font-size="36" fill="#000"><tspan font-weight="bold" font-style="italic">t</tspan><tspan font-weight="bold" font-size="24.5" dy="9">seed</tspan><tspan dy="-9" font-size="37.5"> (s)</tspan></text>
</svg>
</body></html>
